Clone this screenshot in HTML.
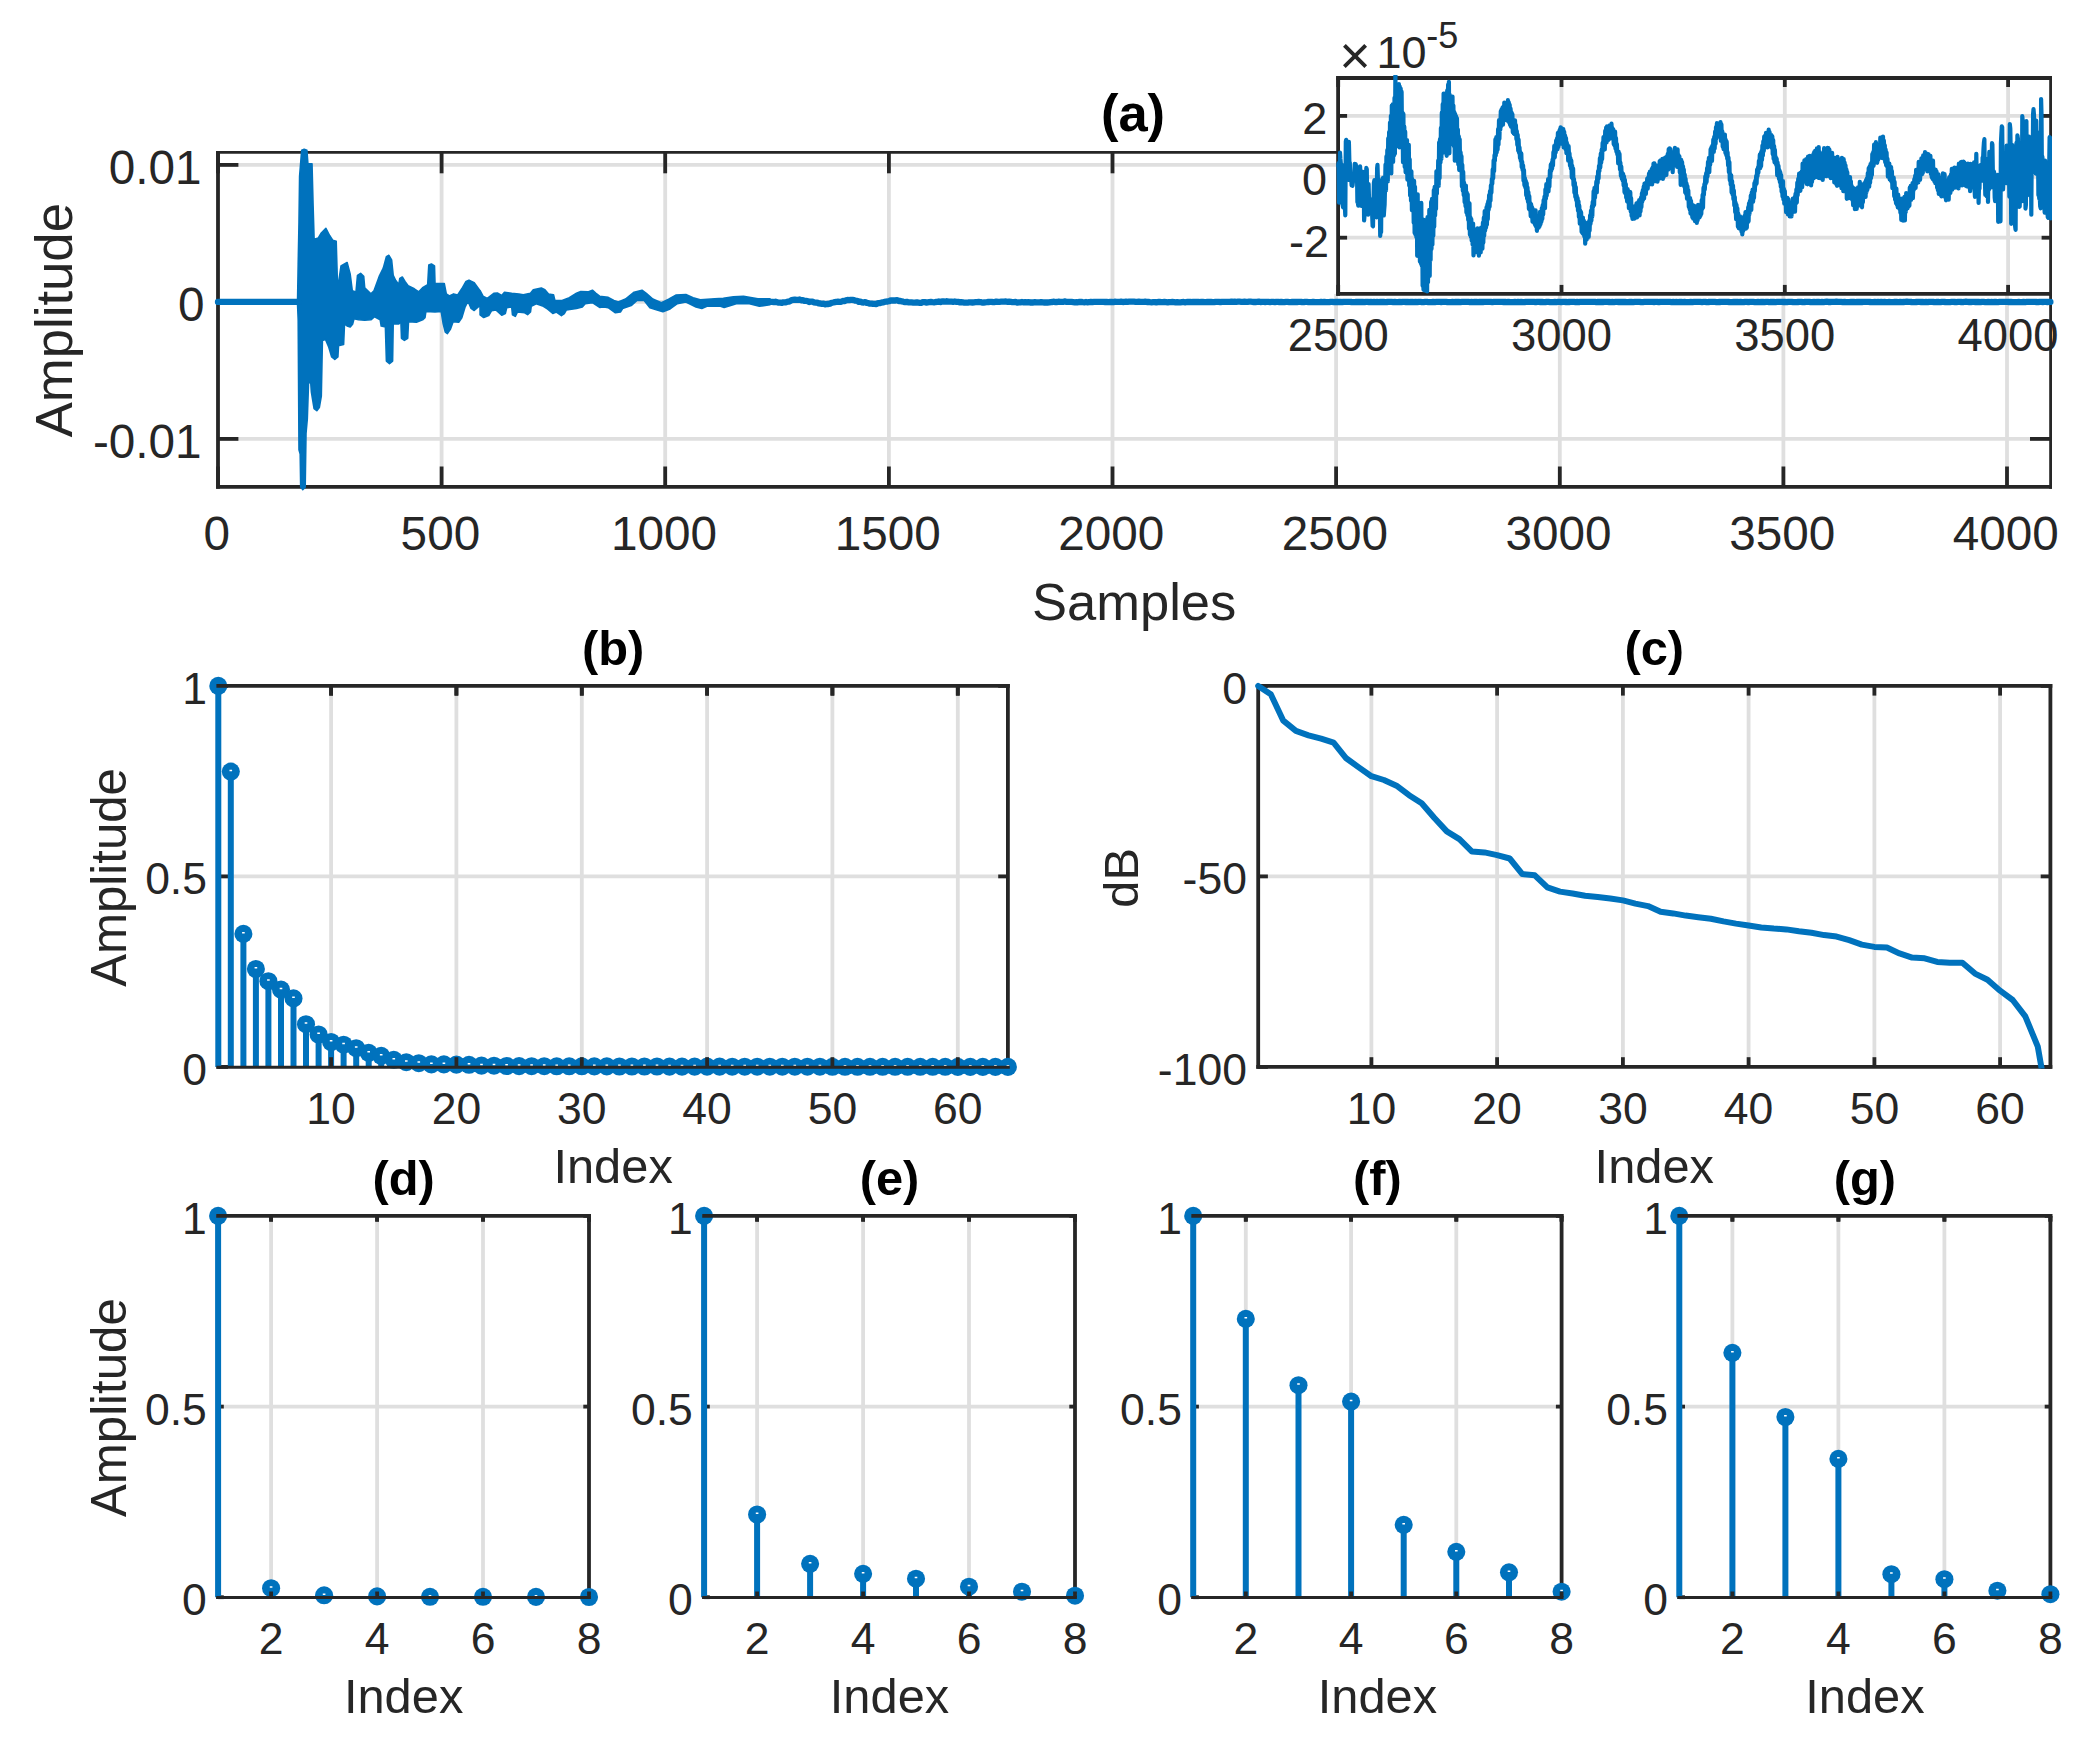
<!DOCTYPE html>
<html lang="en"><head><meta charset="utf-8"><title>Figure</title>
<style>html,body{margin:0;padding:0;background:#fff}svg{display:block}text{font-family:'Liberation Sans', sans-serif}</style>
</head><body>
<svg width="2084" height="1743" viewBox="0 0 2084 1743">
<rect width="2084" height="1743" fill="#fff"/>
<g id="axA">
<line x1="441.6" y1="152.9" x2="441.6" y2="486.9" stroke="#dfdfdf" stroke-width="3.8"/>
<line x1="665.2" y1="152.9" x2="665.2" y2="486.9" stroke="#dfdfdf" stroke-width="3.8"/>
<line x1="888.9" y1="152.9" x2="888.9" y2="486.9" stroke="#dfdfdf" stroke-width="3.8"/>
<line x1="1112.5" y1="152.9" x2="1112.5" y2="486.9" stroke="#dfdfdf" stroke-width="3.8"/>
<line x1="1336.1" y1="293.9" x2="1336.1" y2="486.9" stroke="#dfdfdf" stroke-width="3.8"/>
<line x1="1559.8" y1="152.9" x2="1559.8" y2="486.9" stroke="#dfdfdf" stroke-width="3.8"/>
<line x1="1783.4" y1="152.9" x2="1783.4" y2="486.9" stroke="#dfdfdf" stroke-width="3.8"/>
<line x1="2007" y1="152.9" x2="2007" y2="486.9" stroke="#dfdfdf" stroke-width="3.8"/>
<line x1="218" y1="164.9" x2="2050.4" y2="164.9" stroke="#dfdfdf" stroke-width="3.8"/>
<line x1="218" y1="301.9" x2="2050.4" y2="301.9" stroke="#dfdfdf" stroke-width="3.8"/>
<line x1="218" y1="438.9" x2="2050.4" y2="438.9" stroke="#dfdfdf" stroke-width="3.8"/>
<line x1="218" y1="151" x2="218" y2="488.8" stroke="#262626" stroke-width="3.8"/>
<line x1="2050.6" y1="151" x2="2050.6" y2="488.8" stroke="#262626" stroke-width="2.8"/>
<line x1="216.1" y1="152.4" x2="2052" y2="152.4" stroke="#262626" stroke-width="2.9"/>
<line x1="216.1" y1="486.9" x2="2052" y2="486.9" stroke="#262626" stroke-width="3.8"/>
<line x1="218" y1="152.9" x2="218" y2="173.3" stroke="#262626" stroke-width="3.8"/>
<line x1="218" y1="486.9" x2="218" y2="466.5" stroke="#262626" stroke-width="3.8"/>
<line x1="441.6" y1="152.9" x2="441.6" y2="173.3" stroke="#262626" stroke-width="3.8"/>
<line x1="441.6" y1="486.9" x2="441.6" y2="466.5" stroke="#262626" stroke-width="3.8"/>
<line x1="665.2" y1="152.9" x2="665.2" y2="173.3" stroke="#262626" stroke-width="3.8"/>
<line x1="665.2" y1="486.9" x2="665.2" y2="466.5" stroke="#262626" stroke-width="3.8"/>
<line x1="888.9" y1="152.9" x2="888.9" y2="173.3" stroke="#262626" stroke-width="3.8"/>
<line x1="888.9" y1="486.9" x2="888.9" y2="466.5" stroke="#262626" stroke-width="3.8"/>
<line x1="1112.5" y1="152.9" x2="1112.5" y2="173.3" stroke="#262626" stroke-width="3.8"/>
<line x1="1112.5" y1="486.9" x2="1112.5" y2="466.5" stroke="#262626" stroke-width="3.8"/>
<line x1="1336.1" y1="486.9" x2="1336.1" y2="466.5" stroke="#262626" stroke-width="3.8"/>
<line x1="1559.8" y1="486.9" x2="1559.8" y2="466.5" stroke="#262626" stroke-width="3.8"/>
<line x1="1783.4" y1="486.9" x2="1783.4" y2="466.5" stroke="#262626" stroke-width="3.8"/>
<line x1="2007" y1="486.9" x2="2007" y2="466.5" stroke="#262626" stroke-width="3.8"/>
<line x1="218" y1="164.9" x2="238.4" y2="164.9" stroke="#262626" stroke-width="3.8"/>
<line x1="2050.4" y1="164.9" x2="2030" y2="164.9" stroke="#262626" stroke-width="3.8"/>
<line x1="218" y1="301.9" x2="238.4" y2="301.9" stroke="#262626" stroke-width="3.8"/>
<line x1="2050.4" y1="301.9" x2="2030" y2="301.9" stroke="#262626" stroke-width="3.8"/>
<line x1="218" y1="438.9" x2="238.4" y2="438.9" stroke="#262626" stroke-width="3.8"/>
<line x1="2050.4" y1="438.9" x2="2030" y2="438.9" stroke="#262626" stroke-width="3.8"/>
<text x="216.8" y="550.2" font-size="47.7" text-anchor="middle" fill="#262626">0</text>
<text x="440.4" y="550.2" font-size="47.7" text-anchor="middle" fill="#262626">500</text>
<text x="664" y="550.2" font-size="47.7" text-anchor="middle" fill="#262626">1000</text>
<text x="887.7" y="550.2" font-size="47.7" text-anchor="middle" fill="#262626">1500</text>
<text x="1111.3" y="550.2" font-size="47.7" text-anchor="middle" fill="#262626">2000</text>
<text x="1334.9" y="550.2" font-size="47.7" text-anchor="middle" fill="#262626">2500</text>
<text x="1558.5" y="550.2" font-size="47.7" text-anchor="middle" fill="#262626">3000</text>
<text x="1782.2" y="550.2" font-size="47.7" text-anchor="middle" fill="#262626">3500</text>
<text x="2005.8" y="550.2" font-size="47.7" text-anchor="middle" fill="#262626">4000</text>
<text x="201.6" y="184.1" font-size="47.7" text-anchor="end" fill="#262626">0.01</text>
<text x="204.6" y="321.1" font-size="47.7" text-anchor="end" fill="#262626">0</text>
<text x="201.6" y="458.1" font-size="47.7" text-anchor="end" fill="#262626">-0.01</text>
<text x="71.8" y="320.2" font-size="52.7" text-anchor="middle" fill="#262626" transform="rotate(-90 71.8 320.2)">Amplitude</text>
<text x="1134.2" y="619.6" font-size="52.5" text-anchor="middle" fill="#262626">Samples</text>
<text x="1133" y="131.3" font-size="52.5" text-anchor="middle" fill="#000" font-weight="bold">(a)</text>
<path fill="#0072BD" stroke="#0072BD" stroke-width="1.6" stroke-linejoin="round" d="M297.6,299 297.6,298.7 298.2,264 299,222.6 299.6,176.2 301.7,150.3 304.2,149.3 306.9,150.3 307.9,163.8 312,163.8 313.1,206.1 314.1,239.2 318.2,238.1 321.3,233 325.9,228.4 329.6,235.5 332.7,240.2 336.2,241.2 337.4,282.6 338.9,280.5 341,266 347.1,262.5 350.2,274.3 352.3,290.8 356,291.9 357.5,275.3 360.6,273.3 363.7,276.4 364.7,287.7 370.9,293.9 374,290.8 379.2,276.4 383.3,268.1 386.4,256.7 388.9,255.3 391.6,259.8 393.2,275.3 395.7,280.5 398.8,284.6 399.8,278.4 402.3,277 405,281.5 408.1,285.7 414.3,288.8 418.8,291.9 422.6,287.7 427.7,284.6 428.8,265 431.4,264 434.5,266 435,283.6 444.3,283.6 446.3,293.9 449.4,296 453.6,293.9 457.7,295 461.8,288.8 466,281.5 469,280.1 474.2,282.6 480,290.8 480.1,290.5 483,296.2 487.3,298.4 493.8,293.3 497.3,293 501.7,295.5 504.5,292.2 511.7,293.3 518.9,294.1 523.3,294.8 530.5,293.3 533.3,289.7 541.3,288 544.9,289.7 548.5,294.1 553.5,294.8 554.9,300.5 562.1,300.5 569.3,297.7 576.5,293.3 580.8,291.6 588,291.9 592.4,290.2 596,293.3 599.6,296.2 608.2,297.4 613.9,300.5 618.3,302 625.5,299.1 634.1,292.2 642,290.2 646.3,293.3 652.8,299.1 661.4,302.7 668.6,299.1 675.8,295.1 685.9,294.5 693.1,297.7 700.3,299.8 714.7,298.8 723.3,298.4 733.4,296.9 743.5,296.2 757.9,298.8 770,298.7 L770,304.7 759.3,306.3 749.3,303.7 736.3,303.7 729.1,306 724.1,307.4 720.5,306.3 707.5,306 701.8,308.5 696,307 685.9,302 677.3,303.7 670.1,308.9 662.9,311.8 657.1,309.9 649.9,307.7 644.2,300.5 637,300.5 631.2,305.6 622.6,308.5 620.4,312 615.4,312.8 608.2,307.7 603.9,307 599.6,307.4 592.4,302.7 585.2,303.7 582.3,307 576.5,308.5 566.4,309.9 564.3,313.5 561.4,315.6 556.4,312 552.8,313.5 547.7,309.2 543.4,306.3 536.2,303.7 531.2,306.3 530.5,312 527.6,314.6 524.7,312.8 517.5,312 515.3,316.4 512.5,314.9 511.7,307 506.7,307.7 505.3,313.5 501.7,315.2 495.9,309.9 491.6,310.6 488.7,315.6 483.7,317.5 480.1,314.9 480,305.3 474.2,310.5 471.1,308.4 468,301.2 464.9,307.4 461.8,317.7 458.7,322.2 453.1,321.8 450.5,329 447.4,333.6 445.3,332.1 443.2,323.9 441.2,311.5 435,311.9 425.9,311.5 425,317.7 422.6,319.8 416.4,322.2 408.5,321.8 407.7,338.3 404.4,340.4 401.5,338.3 400.9,321.8 398.8,323.9 393.2,323.9 392.6,361.1 389.5,363.6 386.4,361.1 385.4,327 381.2,326 380.2,319.8 374.6,316.7 370.9,319.8 364.7,320.2 358.5,319.8 354,318.7 352.7,323.9 350.2,327 347.1,326 344.5,323.9 343.6,344.5 338.5,345.6 337.9,356.9 334.8,359.4 331.7,356.9 328.6,346.6 325.5,339.4 322.4,340.4 321.3,396.2 319.3,407.6 316.8,410.7 314.1,408.6 311.4,392.1 310.6,380.7 308.5,383.8 307.3,418.9 306,433.4 305.2,487.1 302.7,489.6 300.7,487.1 300.2,454 299,449.9 298.2,319.8 297.6,305.3 297.6,304.9Z"/>
<path fill="none" stroke="#0072BD" stroke-width="6.3" stroke-linejoin="round" stroke-linecap="round" d="M218,301.95H299 M766,301.7 767.6,301.8 769.2,301.8 770.8,301.9 772.4,301.8 774,302.1 775.6,301.7 777.2,302.2 778.8,302.7 780.4,302.6 782,302.9 783.6,302.3 785.2,302.4 786.8,301.9 788.4,301.7 790,301.2 791.6,300.2 793.2,299.9 794.8,299.6 796.4,299.9 798,299.8 799.6,299.5 801.2,300.3 802.8,300.2 804.4,300.9 806,300.9 807.6,301.1 809.2,302 810.8,301.6 812.4,301.7 814,302.4 815.6,302.6 817.2,302.6 818.8,303.4 820.4,303.5 822,303.9 823.6,303.7 825.2,304.3 826.8,304 828.4,304 830,303.6 831.6,302.8 833.2,302.5 834.8,302.1 836.4,301.8 838,301.7 839.6,301.8 841.2,301.8 842.8,301 844.4,301.1 846,300.4 847.6,300 849.2,300.1 850.8,299.8 852.4,299.8 854,300.1 855.6,300.7 857.2,300.8 858.8,301.9 860.4,301.6 862,302.3 863.6,302.5 865.2,302.1 866.8,302.9 868.4,303.1 870,303.7 871.6,303.6 873.2,303.9 874.8,303.9 876.4,304.2 878,303.2 879.6,303.1 881.2,302.7 882.8,302.4 884.4,301.9 886,301.7 887.6,301.5 889.2,301.2 890.8,300.3 892.4,300.5 894,300.4 895.6,300.5 897.2,300.2 898.8,301.2 900.4,300.9 902,301.4 903.6,301.8 905.2,302.1 906.8,301.8 908.4,302.4 910,302.3 911.6,302.4 913.2,302.6 914.8,302.6 916.4,302.5 918,302.5 919.6,302.8 921.2,302.9 922.8,302.2 924.4,302.1 926,302.6 927.6,302.3 929.2,302.1 930.8,302 932.4,302.2 934,302.3 935.6,302 937.2,301.9 938.8,301.5 940.4,302 942,301.3 943.6,301.5 945.2,301.7 946.8,301.2 948.4,301.6 950,301.7 951.6,301.6 953.2,301.8 954.8,301.5 956.4,301.8 958,301.8 959.6,302.4 961.2,302.1 962.8,302.3 964.4,302.7 966,302.6 967.6,302.7 969.2,302.3 970.8,302.4 972.4,302.5 974,302.3 975.6,302.1 977.2,302.2 978.8,302 980.4,302.1 982,302.6 983.6,302.5 985.2,302.3 986.8,302.2 988.4,302 990,301.8 991.6,301.8 993.2,302.1 994.8,302.1 996.4,301.6 998,301.8 999.6,301.8 1001.2,301.7 1002.8,301.6 1004.4,301.7 1006,301.5 1007.6,301.8 1009.2,301.6 1010.8,301.8 1012.4,302.2 1014,302.2 1015.6,302 1017.2,302.6 1018.8,302.4 1020.4,302.4 1022,302 1023.6,302.3 1025.2,302.1 1026.8,302.4 1028.4,302.2 1030,302.5 1031.6,302.4 1033.2,302.5 1034.8,302.1 1036.4,302.3 1038,302.4 1039.6,302.4 1041.2,302.1 1042.8,302.4 1044.4,302.5 1046,302.3 1047.6,302.5 1049.2,302.4 1050.8,302.1 1052.4,302 1054,301.7 1055.6,302.1 1057.2,302 1058.8,301.7 1060.4,301.8 1062,301.8 1063.6,301.8 1065.2,301.4 1066.8,301.9 1068.4,301.8 1070,301.9 1071.6,301.9 1073.2,302.1 1074.8,302.3 1076.4,302.2 1078,302.3 1079.6,301.9 1081.2,302 1082.8,302.2 1084.4,302.3 1086,302 1087.6,302.3 1089.2,302.2 1090.8,301.8 1092.4,302.1 1094,301.9 1095.6,301.8 1097.2,301.8 1098.8,301.9 1100.4,301.9 1102,301.9 1103.6,301.8 1105.2,302 1106.8,302 1108.4,302.1 1110,302 1111.6,301.9 1113.2,302.2 1114.8,301.7 1116.4,301.9 1118,301.8 1119.6,301.9 1121.2,301.7 1122.8,302 1124.4,301.8 1126,301.6 1127.6,301.8 1129.2,301.6 1130.8,301.7 1132.4,301.6 1134,301.7 1135.6,301.9 1137.2,301.9 1138.8,301.7 1140.4,301.9 1142,301.9 1143.6,301.8 1145.2,301.7 1146.8,302 1148.4,302 1150,302.2 1151.6,302.3 1153.2,302.2 1154.8,302.1 1156.4,302.4 1158,302 1159.6,302 1161.2,302.2 1162.8,302.2 1164.4,302 1166,302.2 1167.6,302.4 1169.2,302.1 1170.8,302.1 1172.4,302 1174,302.1 1175.6,302.3 1177.2,302.1 1178.8,302.3 1180.4,302.3 1182,302.1 1183.6,302 1185.2,302.3 1186.8,302 1188.4,302 1190,301.9 1191.6,302.2 1193.2,302 1194.8,301.9 1196.4,302 1198,301.8 1199.6,302.1 1201.2,302 1202.8,301.9 1204.4,302.1 1206,302.1 1207.6,301.8 1209.2,302 1210.8,301.9 1212.4,302.2 1214,302.1 1215.6,301.8 1217.2,301.8 1218.8,301.8 1220.4,302.1 1222,301.8 1223.6,301.9 1225.2,301.8 1226.8,301.9 1228.4,301.9 1230,301.9 1231.6,301.6 1233.2,301.9 1234.8,301.7 1236.4,301.8 1238,301.7 1239.6,301.7 1241.2,301.8 1242.8,301.8 1244.4,301.7 1246,301.9 1247.6,301.8 1249.2,301.6 1250.8,301.7 1252.4,301.8 1254,302 1255.6,302 1257.2,301.9 1258.8,301.6 1260.4,302 1262,301.8 1263.6,301.9 1265.2,302 1266.8,301.9 1268.4,301.9 1270,302.1 1271.6,301.9 1273.2,301.9 1274.8,302.1 1276.4,301.8 1278,301.8 1279.6,302.1 1281.2,301.8 1282.8,302.1 1284.4,302.1 1286,301.9 1287.6,301.9 1289.2,302.1 1290.8,302.2 1292.4,301.8 1294,302 1295.6,302 1297.2,302 1298.8,301.9 1300.4,301.8 1302,302 1303.6,302.1 1305.2,301.8 1306.8,301.9 1308.4,302.1 1310,302.1 1311.6,302.1 1313.2,301.8 1314.8,302.1 1316.4,302.2 1318,302.2 1319.6,302.1 1321.2,301.8 1322.8,302.2 1324.4,301.9 1326,302.1 1327.6,302.2 1329.2,302.1 1330.8,301.8 1332.4,301.9 1334,302.2 1335.6,301.8 1337.2,302 1338.8,302 1340.4,301.8 1342,302.1 1343.6,301.8 1345.2,301.8 1346.8,301.9 1348.4,301.8 1350,301.8 1351.6,302 1353.2,302.1 1354.8,302.2 1356.4,301.8 1358,302 1359.6,301.9 1361.2,302 1362.8,302 1364.4,302.2 1366,301.9 1367.6,301.8 1369.2,302.1 1370.8,301.8 1372.4,302.1 1374,302 1375.6,302.2 1377.2,302 1378.8,302.1 1380.4,301.9 1382,302 1383.6,301.9 1385.2,302.1 1386.8,302 1388.4,301.8 1390,301.9 1391.6,301.9 1393.2,302.1 1394.8,301.9 1396.4,302.1 1398,302.1 1399.6,301.8 1401.2,302.1 1402.8,301.8 1404.4,301.8 1406,302 1407.6,301.9 1409.2,302.2 1410.8,302 1412.4,301.9 1414,302.1 1415.6,301.8 1417.2,302.1 1418.8,301.8 1420.4,301.8 1422,302.2 1423.6,302.1 1425.2,301.9 1426.8,301.8 1428.4,302.2 1430,302.1 1431.6,302.1 1433.2,301.8 1434.8,302.1 1436.4,301.9 1438,301.9 1439.6,301.9 1441.2,302 1442.8,301.9 1444.4,301.9 1446,301.8 1447.6,302.1 1449.2,302.1 1450.8,302.1 1452.4,302 1454,302.2 1455.6,302 1457.2,302 1458.8,302 1460.4,302.1 1462,301.9 1463.6,301.8 1465.2,301.8 1466.8,301.9 1468.4,301.8 1470,302.2 1471.6,302 1473.2,302.1 1474.8,301.8 1476.4,302 1478,302.2 1479.6,302 1481.2,302 1482.8,302 1484.4,301.8 1486,301.8 1487.6,301.8 1489.2,301.9 1490.8,301.9 1492.4,302.2 1494,301.8 1495.6,301.9 1497.2,301.9 1498.8,301.8 1500.4,301.9 1502,301.9 1503.6,302 1505.2,301.8 1506.8,302.2 1508.4,301.9 1510,302.2 1511.6,302.1 1513.2,302.1 1514.8,302 1516.4,302.2 1518,301.8 1519.6,302.1 1521.2,301.9 1522.8,302.1 1524.4,302.1 1526,301.8 1527.6,301.9 1529.2,301.8 1530.8,301.9 1532.4,301.8 1534,301.9 1535.6,302.2 1537.2,301.9 1538.8,301.9 1540.4,302 1542,301.9 1543.6,302.1 1545.2,302.1 1546.8,301.8 1548.4,301.9 1550,302.1 1551.6,302.2 1553.2,302.1 1554.8,302 1556.4,302.2 1558,301.8 1559.6,301.8 1561.2,302.1 1562.8,301.9 1564.4,301.8 1566,302 1567.6,302.2 1569.2,302 1570.8,301.9 1572.4,301.8 1574,301.8 1575.6,302.2 1577.2,302 1578.8,302.2 1580.4,301.8 1582,301.9 1583.6,301.8 1585.2,301.9 1586.8,301.8 1588.4,301.9 1590,301.9 1591.6,301.9 1593.2,301.8 1594.8,301.8 1596.4,302.2 1598,301.8 1599.6,302 1601.2,301.9 1602.8,302 1604.4,301.8 1606,301.9 1607.6,301.8 1609.2,302 1610.8,302.2 1612.4,302 1614,302.1 1615.6,301.9 1617.2,301.8 1618.8,302 1620.4,302 1622,302 1623.6,301.9 1625.2,302 1626.8,302.1 1628.4,302.2 1630,301.9 1631.6,302 1633.2,302.1 1634.8,301.9 1636.4,301.8 1638,301.9 1639.6,301.8 1641.2,302.1 1642.8,302.1 1644.4,301.9 1646,301.8 1647.6,301.8 1649.2,301.9 1650.8,301.8 1652.4,301.9 1654,302 1655.6,301.9 1657.2,301.8 1658.8,302.1 1660.4,301.8 1662,301.8 1663.6,301.9 1665.2,301.9 1666.8,301.8 1668.4,301.9 1670,301.9 1671.6,302.1 1673.2,302 1674.8,302.2 1676.4,302 1678,302.1 1679.6,302 1681.2,301.9 1682.8,302.1 1684.4,302 1686,302.2 1687.6,302.1 1689.2,302.1 1690.8,301.9 1692.4,302.1 1694,301.9 1695.6,301.8 1697.2,301.8 1698.8,301.8 1700.4,301.9 1702,302.1 1703.6,301.9 1705.2,301.8 1706.8,302.1 1708.4,302 1710,301.8 1711.6,301.8 1713.2,301.8 1714.8,301.9 1716.4,302.1 1718,302.2 1719.6,302 1721.2,301.8 1722.8,301.9 1724.4,301.9 1726,301.9 1727.6,301.8 1729.2,302 1730.8,302.1 1732.4,302.1 1734,301.8 1735.6,302 1737.2,301.8 1738.8,302.1 1740.4,301.9 1742,302.2 1743.6,302.1 1745.2,301.8 1746.8,301.9 1748.4,302.2 1750,301.9 1751.6,301.9 1753.2,301.9 1754.8,302.1 1756.4,302.2 1758,302 1759.6,302.2 1761.2,302 1762.8,301.8 1764.4,302.1 1766,301.9 1767.6,301.8 1769.2,302.2 1770.8,301.8 1772.4,302 1774,302 1775.6,302.1 1777.2,301.9 1778.8,301.8 1780.4,301.9 1782,301.8 1783.6,302 1785.2,301.9 1786.8,302.1 1788.4,301.8 1790,301.9 1791.6,301.9 1793.2,302.2 1794.8,302.1 1796.4,302.1 1798,302 1799.6,301.9 1801.2,301.8 1802.8,302.1 1804.4,302 1806,301.8 1807.6,301.8 1809.2,301.8 1810.8,302.1 1812.4,302.1 1814,301.8 1815.6,302.1 1817.2,301.9 1818.8,302 1820.4,302.1 1822,302 1823.6,302.1 1825.2,301.9 1826.8,301.7 1828.4,302 1830,302 1831.6,301.8 1833.2,301.9 1834.8,301.9 1836.4,301.7 1838,301.9 1839.6,301.9 1841.2,301.9 1842.8,302.1 1844.4,301.9 1846,302.2 1847.6,302.1 1849.2,302.1 1850.8,302 1852.4,302 1854,302 1855.6,302.1 1857.2,301.9 1858.8,302 1860.4,302 1862,302 1863.6,301.9 1865.2,301.8 1866.8,301.8 1868.4,301.9 1870,302 1871.6,302.1 1873.2,302.1 1874.8,301.9 1876.4,302.1 1878,301.9 1879.6,302.1 1881.2,301.8 1882.8,302.1 1884.4,302 1886,302.2 1887.6,302.1 1889.2,302 1890.8,302.1 1892.4,302.1 1894,302 1895.6,301.8 1897.2,302 1898.8,302.1 1900.4,301.8 1902,302.2 1903.6,302 1905.2,301.9 1906.8,301.7 1908.4,301.9 1910,301.8 1911.6,302 1913.2,302.1 1914.8,302.1 1916.4,302 1918,301.9 1919.6,301.8 1921.2,302 1922.8,302 1924.4,302.1 1926,301.9 1927.6,302.1 1929.2,301.8 1930.8,301.9 1932.4,301.8 1934,302 1935.6,302.1 1937.2,301.8 1938.8,302 1940.4,302.1 1942,301.8 1943.6,301.8 1945.2,302 1946.8,302.1 1948.4,302.1 1950,302.1 1951.6,301.9 1953.2,301.9 1954.8,302 1956.4,302.1 1958,301.9 1959.6,301.9 1961.2,302 1962.8,302.2 1964.4,301.8 1966,301.7 1967.6,301.8 1969.2,302 1970.8,302 1972.4,301.8 1974,301.8 1975.6,302 1977.2,302 1978.8,302 1980.4,302.1 1982,301.8 1983.6,301.9 1985.2,302.1 1986.8,302.2 1988.4,301.9 1990,302.1 1991.6,302 1993.2,302.1 1994.8,301.8 1996.4,302 1998,302.1 1999.6,301.9 2001.2,301.8 2002.8,301.8 2004.4,301.8 2006,301.8 2007.6,301.8 2009.2,302 2010.8,301.8 2012.4,302.1 2014,302.1 2015.6,302.1 2017.2,302.1 2018.8,302 2020.4,302.1 2022,302.2 2023.6,302 2025.2,302.2 2026.8,301.8 2028.4,301.8 2030,301.8 2031.6,301.8 2033.2,301.9 2034.8,301.9 2036.4,302 2038,302.1 2039.6,301.8 2041.2,301.9 2042.8,302 2044.4,301.9 2046,301.8 2047.6,302 2049.2,301.9 2050.4,301.9"/>
</g>
<g id="inset">
<rect x="1338.1" y="74" width="714.5" height="220" fill="#fff"/>
<line x1="1561.5" y1="78" x2="1561.5" y2="293.9" stroke="#dfdfdf" stroke-width="3.8"/>
<line x1="1784.8" y1="78" x2="1784.8" y2="293.9" stroke="#dfdfdf" stroke-width="3.8"/>
<line x1="2008.1" y1="78" x2="2008.1" y2="293.9" stroke="#dfdfdf" stroke-width="3.8"/>
<line x1="1338.1" y1="115.9" x2="2050.6" y2="115.9" stroke="#dfdfdf" stroke-width="3.8"/>
<line x1="1338.1" y1="176.8" x2="2050.6" y2="176.8" stroke="#dfdfdf" stroke-width="3.8"/>
<line x1="1338.1" y1="237.7" x2="2050.6" y2="237.7" stroke="#dfdfdf" stroke-width="3.8"/>
<line x1="1338.1" y1="76" x2="1338.1" y2="295.8" stroke="#262626" stroke-width="3.8"/>
<line x1="2050.6" y1="76" x2="2050.6" y2="295.8" stroke="#262626" stroke-width="2.8"/>
<line x1="1336.2" y1="78" x2="2052" y2="78" stroke="#262626" stroke-width="3.8"/>
<line x1="1336.2" y1="293.9" x2="2052" y2="293.9" stroke="#262626" stroke-width="3.8"/>
<line x1="1338.2" y1="78" x2="1338.2" y2="87" stroke="#262626" stroke-width="3.8"/>
<line x1="1338.2" y1="293.9" x2="1338.2" y2="284.9" stroke="#262626" stroke-width="3.8"/>
<line x1="1561.5" y1="78" x2="1561.5" y2="87" stroke="#262626" stroke-width="3.8"/>
<line x1="1561.5" y1="293.9" x2="1561.5" y2="284.9" stroke="#262626" stroke-width="3.8"/>
<line x1="1784.8" y1="78" x2="1784.8" y2="87" stroke="#262626" stroke-width="3.8"/>
<line x1="1784.8" y1="293.9" x2="1784.8" y2="284.9" stroke="#262626" stroke-width="3.8"/>
<line x1="2008.1" y1="78" x2="2008.1" y2="87" stroke="#262626" stroke-width="3.8"/>
<line x1="2008.1" y1="293.9" x2="2008.1" y2="284.9" stroke="#262626" stroke-width="3.8"/>
<line x1="1338.1" y1="115.9" x2="1347.1" y2="115.9" stroke="#262626" stroke-width="3.8"/>
<line x1="2050.6" y1="115.9" x2="2041.6" y2="115.9" stroke="#262626" stroke-width="3.8"/>
<line x1="1338.1" y1="176.8" x2="1347.1" y2="176.8" stroke="#262626" stroke-width="3.8"/>
<line x1="2050.6" y1="176.8" x2="2041.6" y2="176.8" stroke="#262626" stroke-width="3.8"/>
<line x1="1338.1" y1="237.7" x2="1347.1" y2="237.7" stroke="#262626" stroke-width="3.8"/>
<line x1="2050.6" y1="237.7" x2="2041.6" y2="237.7" stroke="#262626" stroke-width="3.8"/>
<clipPath id="ci"><rect x="1336.1" y="75" width="715.9" height="221"/></clipPath>
<polyline clip-path="url(#ci)" fill="none" stroke="#0072BD" stroke-width="4.2" stroke-linejoin="round" stroke-linecap="round" points="1338.2,166.4 1338.6,163.2 1339.1,202.7 1339.5,200.8 1340,152.6 1340.4,158.7 1340.9,164.2 1341.3,164.6 1341.8,195.2 1342.2,196.1 1342.7,205.6 1343.1,207.4 1343.6,173.9 1344,165.5 1344.5,164.9 1344.9,207.4 1345.3,215.3 1345.8,141.4 1346.2,139.8 1346.7,176.8 1347.1,150.7 1347.6,158.1 1348,176.5 1348.5,179.9 1348.9,141.8 1349.4,162.9 1349.8,162.5 1350.3,179 1350.7,179.1 1351.2,178.3 1351.6,185.5 1352,184.5 1352.5,185.9 1352.9,182 1353.4,175.7 1353.8,174.7 1354.3,172.3 1354.7,163.9 1355.2,167.4 1355.6,164 1356.1,166.1 1356.5,178.3 1357,173.3 1357.4,202.1 1357.8,202.1 1358.3,205.6 1358.7,190.9 1359.2,198.1 1359.6,196.3 1360.1,166.4 1360.5,174.4 1361,201.3 1361.4,205.8 1361.9,182 1362.3,182.9 1362.8,171.9 1363.2,172.8 1363.7,176 1364.1,220.5 1364.5,215.6 1365,181 1365.4,185.6 1365.9,202.9 1366.3,167.9 1366.8,169.5 1367.2,209.5 1367.7,210.1 1368.1,214.6 1368.6,184.1 1369,198.2 1369.5,203.9 1369.9,203.1 1370.4,199.4 1370.8,205.4 1371.2,201.6 1371.7,207.9 1372.1,213.3 1372.6,225.8 1373,226.3 1373.5,201.2 1373.9,182.8 1374.4,180.2 1374.8,210.4 1375.3,203 1375.7,206.4 1376.2,214.6 1376.6,217.3 1377.1,168.2 1377.5,164.8 1377.9,178.7 1378.4,181.4 1378.8,196.8 1379.3,194.3 1379.7,195.6 1380.2,235.9 1380.6,229.6 1381.1,232.2 1381.5,184.1 1382,180.7 1382.4,178.6 1382.9,177.9 1383.3,178.8 1383.8,215.5 1384.2,209.6 1384.6,204.9 1385.1,184.9 1385.5,164.6 1386,190.4 1386.4,156.4 1386.9,180.5 1387.3,150.1 1387.8,181.4 1388.2,138.4 1388.7,170.7 1389.1,132 1389.6,163.5 1390,122.5 1390.4,170.1 1390.9,115.8 1391.3,173.4 1391.8,105.5 1392.2,158.7 1392.7,104.3 1393.1,161.9 1393.6,108.4 1394,155.4 1394.5,97.8 1394.9,153.8 1395.4,70.9 1395.8,146.4 1396.3,93 1396.7,132.9 1397.1,92.6 1397.6,139.9 1398,91 1398.5,146.1 1398.9,84 1399.4,147.4 1399.8,86.7 1400.3,142.2 1400.7,88.5 1401.2,142.4 1401.6,91.7 1402.1,146.3 1402.5,112.7 1403,162.3 1403.4,113.9 1403.8,157.1 1404.3,126.7 1404.7,167 1405.2,131.7 1405.6,172.3 1406.1,140 1406.5,172.9 1407,140 1407.4,179.7 1407.9,150.1 1408.3,176.9 1408.8,144.8 1409.2,185.6 1409.7,159.3 1410.1,195.4 1410.5,171.5 1411,200.6 1411.4,171.3 1411.9,210.3 1412.3,179.1 1412.8,210.3 1413.2,181.8 1413.7,222.6 1414.1,180.9 1414.6,233.1 1415,186.8 1415.5,234.8 1415.9,197.9 1416.3,237.1 1416.8,201.3 1417.2,255.8 1417.7,194.3 1418.1,255.5 1418.6,215.5 1419,252.1 1419.5,205.3 1419.9,261.4 1420.4,213 1420.8,263.3 1421.3,202.9 1421.7,265.6 1422.2,219.3 1422.6,285.8 1423,228.3 1423.5,289.8 1423.9,219.8 1424.4,290.4 1424.8,220.3 1425.3,276 1425.7,223.4 1426.2,283.5 1426.6,221.3 1427.1,291.4 1427.5,217.2 1428,282.2 1428.4,218 1428.9,272.9 1429.3,209.9 1429.7,276 1430.2,216.3 1430.6,260.1 1431.1,201.9 1431.5,249.1 1432,198.8 1432.4,244.8 1432.9,198.6 1433.3,235.7 1433.8,190.1 1434.2,226.8 1434.7,186.9 1435.1,215.4 1435.6,186.8 1436,209 1436.4,171.3 1436.9,193.7 1437.3,170.8 1437.8,185.9 1438.2,160.5 1438.7,185.9 1439.1,142.4 1439.6,178.2 1440,139 1440.5,162.5 1440.9,127.9 1441.4,158.9 1441.8,112.7 1442.3,151.1 1442.7,104.2 1443.1,152.8 1443.6,93.6 1444,149.2 1444.5,105.2 1444.9,138.2 1445.4,103.4 1445.8,141.6 1446.3,93 1446.7,155.8 1447.2,90.4 1447.6,152.3 1448.1,84.7 1448.5,150 1448.9,81.8 1449.4,153.3 1449.8,94.9 1450.3,144.2 1450.7,104.2 1451.2,142.6 1451.6,102.5 1452.1,138.8 1452.5,96.6 1453,143 1453.4,105.5 1453.9,146.2 1454.3,112.1 1454.8,160.7 1455.2,114.1 1455.6,155.1 1456.1,116.3 1456.5,159.2 1457,118.4 1457.4,161.3 1457.9,129.5 1458.3,164.6 1458.8,136.3 1459.2,170.1 1459.7,139.3 1460.1,167.4 1460.6,152.4 1461,169.6 1461.5,156.2 1461.9,186.4 1462.3,164.8 1462.8,190.7 1463.2,171.9 1463.7,195.2 1464.1,182.7 1464.6,202.1 1465,185.5 1465.5,206.3 1465.9,185.5 1466.4,212.5 1466.8,192.5 1467.3,215.1 1467.7,194.3 1468.2,220 1468.6,202.9 1469,228.8 1469.5,203.4 1469.9,234.8 1470.4,217.3 1470.8,236.7 1471.3,219 1471.7,240.8 1472.2,224.1 1472.6,244.6 1473.1,223.6 1473.5,255.5 1474,229 1474.4,249.5 1474.9,232.4 1475.3,249.2 1475.7,229.6 1476.2,248.5 1476.6,229.1 1477.1,252.5 1477.5,228.3 1478,252 1478.4,234.7 1478.9,255.6 1479.3,233.9 1479.8,250.8 1480.2,233.5 1480.7,252.5 1481.1,227.7 1481.5,245.5 1482,230.5 1482.4,248.7 1482.9,222.7 1483.3,242.8 1483.8,217.7 1484.2,235.8 1484.7,211 1485.1,230.6 1485.6,211 1486,227.6 1486.5,207.2 1486.9,224.6 1487.4,204.1 1487.8,219.2 1488.2,201.2 1488.7,209.7 1489.1,195.1 1489.6,206.7 1490,191.1 1490.5,200.6 1490.9,185.3 1491.4,192.8 1491.8,179 1492.3,183.8 1492.7,169.3 1493.2,178.3 1493.6,160.4 1494.1,171.2 1494.5,155.1 1494.9,160.8 1495.4,139.3 1495.8,155.5 1496.3,137.2 1496.7,152.4 1497.2,137.2 1497.6,149.7 1498.1,129 1498.5,144.7 1499,120.2 1499.4,138.9 1499.9,121.3 1500.3,129.6 1500.8,111 1501.2,126.1 1501.6,109.3 1502.1,124.5 1502.5,107.7 1503,124.7 1503.4,106.6 1503.9,118.4 1504.3,102.5 1504.8,118.8 1505.2,103 1505.7,120 1506.1,105 1506.6,120.3 1507,103.9 1507.5,120.8 1507.9,100.2 1508.3,119.8 1508.8,102.4 1509.2,122.7 1509.7,104.9 1510.1,125 1510.6,108.7 1511,126.7 1511.5,112.3 1511.9,127.7 1512.4,114.2 1512.8,132.3 1513.3,122.3 1513.7,133.4 1514.1,122.9 1514.6,134.2 1515,120.3 1515.5,134.3 1515.9,125.1 1516.4,139.2 1516.8,131.2 1517.3,145 1517.7,134.9 1518.2,150.7 1518.6,139.7 1519.1,153 1519.5,147.4 1520,158.2 1520.4,152.1 1520.8,161 1521.3,153.6 1521.7,167.1 1522.2,161.8 1522.6,170.1 1523.1,165.6 1523.5,180.7 1524,170 1524.4,185.3 1524.9,178.1 1525.3,187.3 1525.8,180.9 1526.2,195.3 1526.7,183 1527.1,198.8 1527.5,187.3 1528,202 1528.4,192 1528.9,208.9 1529.3,196.2 1529.8,209.9 1530.2,203.2 1530.7,216.2 1531.1,204 1531.6,216.9 1532,207 1532.5,221.7 1532.9,209 1533.4,222 1533.8,211.4 1534.2,222.9 1534.7,214.6 1535.1,224.9 1535.6,210.3 1536,226.5 1536.5,217.7 1536.9,230.8 1537.4,218.3 1537.8,228.1 1538.3,216.4 1538.7,227.7 1539.2,216.1 1539.6,226.1 1540,211.9 1540.5,224.2 1540.9,213.7 1541.4,221.6 1541.8,208.2 1542.3,218.9 1542.7,205 1543.2,214.5 1543.6,200.1 1544.1,208.1 1544.5,196.6 1545,208.1 1545.4,189.3 1545.9,198.6 1546.3,184.2 1546.7,195.6 1547.2,184.1 1547.6,191.6 1548.1,179 1548.5,191.3 1549,179.3 1549.4,186.7 1549.9,170.4 1550.3,177.4 1550.8,164.7 1551.2,170.9 1551.7,162.8 1552.1,168.7 1552.6,159.4 1553,165.4 1553.4,152.1 1553.9,158.2 1554.3,145.8 1554.8,157.2 1555.2,145.2 1555.7,152.5 1556.1,140.7 1556.6,148.2 1557,138.3 1557.5,149.3 1557.9,132.9 1558.4,146.9 1558.8,132.2 1559.3,141 1559.7,129.9 1560.1,143.2 1560.6,127.3 1561,142.2 1561.5,128.1 1561.9,143.9 1562.4,129.8 1562.8,141.1 1563.3,129 1563.7,147.4 1564.2,131.8 1564.6,144.5 1565.1,135.6 1565.5,149.1 1566,138 1566.4,153.1 1566.8,142.6 1567.3,152.6 1567.7,145.2 1568.2,160.6 1568.6,146 1569.1,157.3 1569.5,153.4 1570,165.6 1570.4,158 1570.9,168.7 1571.3,160.6 1571.8,177.4 1572.2,165.9 1572.6,178.7 1573.1,168.5 1573.5,185.3 1574,179.1 1574.4,192.8 1574.9,182.8 1575.3,196.9 1575.8,187 1576.2,200.3 1576.7,195.5 1577.1,206.2 1577.6,198 1578,210.7 1578.5,201.3 1578.9,216.9 1579.3,205.7 1579.8,223.7 1580.2,210.6 1580.7,223.8 1581.1,212.2 1581.6,231.9 1582,220.6 1582.5,233.2 1582.9,217.5 1583.4,234.2 1583.8,220.5 1584.3,236.5 1584.7,222 1585.2,243.6 1585.6,225.7 1586,240.2 1586.5,225.6 1586.9,239.1 1587.4,223 1587.8,237.9 1588.3,222.8 1588.7,237 1589.2,220.9 1589.6,230.7 1590.1,215.3 1590.5,223.9 1591,210.5 1591.4,220.6 1591.9,206.2 1592.3,216.4 1592.7,201.8 1593.2,206.4 1593.6,191.2 1594.1,204.9 1594.5,187.9 1595,197.7 1595.4,187.1 1595.9,192.9 1596.3,181.7 1596.8,192.5 1597.2,176.6 1597.7,183 1598.1,171 1598.6,178.5 1599,165.8 1599.4,171.1 1599.9,158.2 1600.3,167.5 1600.8,153.7 1601.2,162.6 1601.7,149.6 1602.1,159.1 1602.6,142.8 1603,150.5 1603.5,137 1603.9,148.1 1604.4,138.9 1604.8,149.5 1605.2,130.8 1605.7,141.1 1606.1,127.7 1606.6,142.5 1607,126.3 1607.5,140.1 1607.9,129.8 1608.4,140 1608.8,127.8 1609.3,139 1609.7,125.4 1610.2,137.6 1610.6,126.8 1611.1,137 1611.5,123.7 1611.9,138 1612.4,128.1 1612.8,138.8 1613.3,129.4 1613.7,144.1 1614.2,132.5 1614.6,145.6 1615.1,131.7 1615.5,148.7 1616,138.1 1616.4,151.8 1616.9,144.2 1617.3,154.5 1617.8,151.1 1618.2,163.4 1618.6,151.5 1619.1,160 1619.5,153.8 1620,169.4 1620.4,162.5 1620.9,175.9 1621.3,166.7 1621.8,178.7 1622.2,172.8 1622.7,180.5 1623.1,173.9 1623.6,185.3 1624,176.4 1624.5,192.1 1624.9,179.9 1625.3,193.4 1625.8,184 1626.2,197.6 1626.7,189.3 1627.1,201.4 1627.6,189 1628,202.2 1628.5,191.2 1628.9,208.2 1629.4,196.8 1629.8,206.4 1630.3,192.2 1630.7,211.4 1631.1,198 1631.6,216 1632,206.1 1632.5,218.8 1632.9,210.4 1633.4,218.5 1633.8,207.9 1634.3,218.6 1634.7,206.4 1635.2,218 1635.6,205.8 1636.1,216 1636.5,203.3 1637,217.3 1637.4,206.8 1637.8,213.4 1638.3,202 1638.7,212.6 1639.2,200.2 1639.6,215.4 1640.1,200.6 1640.5,211.4 1641,197.7 1641.4,207.2 1641.9,193.2 1642.3,201.6 1642.8,190 1643.2,199.5 1643.7,186.5 1644.1,198.4 1644.5,183.6 1645,192.5 1645.4,183.4 1645.9,193.8 1646.3,182.8 1646.8,188.7 1647.2,178.5 1647.7,188.6 1648.1,177.6 1648.6,184.4 1649,173.6 1649.5,184.3 1649.9,171.6 1650.4,184.1 1650.8,172 1651.2,180.5 1651.7,169.1 1652.1,184.5 1652.6,167.6 1653,179 1653.5,163.6 1653.9,178.8 1654.4,163.4 1654.8,181.2 1655.3,169.3 1655.7,181.2 1656.2,165.3 1656.6,181.5 1657.1,166.8 1657.5,181.7 1657.9,168.2 1658.4,178.3 1658.8,166.5 1659.3,178.7 1659.7,161.1 1660.2,176.7 1660.6,160.4 1661.1,175.6 1661.5,163.3 1662,170.2 1662.4,158.8 1662.9,179 1663.3,164.4 1663.7,176.8 1664.2,163.7 1664.6,172.8 1665.1,157.5 1665.5,171.8 1666,160.4 1666.4,174.9 1666.9,156.3 1667.3,168.8 1667.8,153.9 1668.2,169.6 1668.7,149.1 1669.1,163 1669.6,148.3 1670,167.8 1670.4,149.1 1670.9,163.2 1671.3,151.8 1671.8,168.9 1672.2,156.7 1672.7,172.1 1673.1,154.2 1673.6,163.8 1674,152.1 1674.5,163.1 1674.9,147.8 1675.4,164.3 1675.8,151.9 1676.3,165.5 1676.7,152.2 1677.1,167 1677.6,149.4 1678,166.1 1678.5,155.1 1678.9,167.5 1679.4,156.3 1679.8,172.4 1680.3,161.3 1680.7,185 1681.2,159.8 1681.6,174.9 1682.1,162 1682.5,179.8 1683,166.3 1683.4,178.2 1683.8,169.6 1684.3,186.7 1684.7,174.6 1685.2,192.5 1685.6,178.8 1686.1,194 1686.5,183.3 1687,198.8 1687.4,186 1687.9,197.4 1688.3,190.3 1688.8,206.9 1689.2,198.1 1689.7,209.5 1690.1,198.1 1690.5,213.5 1691,200.9 1691.4,214.1 1691.9,204.3 1692.3,217.3 1692.8,205.8 1693.2,218.6 1693.7,205.6 1694.1,217.6 1694.6,206 1695,221.2 1695.5,209.2 1695.9,219.8 1696.3,206.8 1696.8,223 1697.2,212.7 1697.7,220.2 1698.1,204.8 1698.6,215.8 1699,206.5 1699.5,217.5 1699.9,205 1700.4,216 1700.8,206.5 1701.3,214 1701.7,200.1 1702.2,208.9 1702.6,194.9 1703,207.6 1703.5,187.7 1703.9,194.8 1704.4,184 1704.8,189.4 1705.3,176.3 1705.7,183.6 1706.2,173 1706.6,181.8 1707.1,168 1707.5,176.4 1708,161.9 1708.4,169.8 1708.9,157.9 1709.3,172.2 1709.7,158.6 1710.2,164.7 1710.6,149.2 1711.1,159.2 1711.5,147.2 1712,161 1712.4,145.6 1712.9,151.5 1713.3,139.6 1713.8,152 1714.2,136.8 1714.7,148.4 1715.1,131.7 1715.6,143.7 1716,127 1716.4,138.5 1716.9,123.2 1717.3,135.6 1717.8,123.6 1718.2,135 1718.7,123.8 1719.1,136.5 1719.6,125.1 1720,135.9 1720.5,122.2 1720.9,141 1721.4,124.3 1721.8,140.1 1722.3,131.3 1722.7,146.7 1723.1,138.1 1723.6,149.1 1724,138.4 1724.5,147.9 1724.9,134.6 1725.4,152.9 1725.8,139.8 1726.3,155.3 1726.7,141.7 1727.2,158.8 1727.6,152.3 1728.1,165.4 1728.5,157.6 1728.9,172.3 1729.4,162.1 1729.8,180.3 1730.3,174.1 1730.7,184.7 1731.2,175.4 1731.6,192.4 1732.1,181.1 1732.5,194.4 1733,185.6 1733.4,199.1 1733.9,190.7 1734.3,205.4 1734.8,197.1 1735.2,212.1 1735.6,202.5 1736.1,219.2 1736.5,204.9 1737,219 1737.4,208.4 1737.9,226.8 1738.3,213.5 1738.8,228.3 1739.2,216.9 1739.7,226.8 1740.1,216.3 1740.6,228.3 1741,218.6 1741.5,231.6 1741.9,224.1 1742.3,234.4 1742.8,219.2 1743.2,230.9 1743.7,217 1744.1,227.7 1744.6,215.8 1745,226.3 1745.5,212 1745.9,228.6 1746.4,215.2 1746.8,227.8 1747.3,211.4 1747.7,222.5 1748.2,207.2 1748.6,221.1 1749,203.3 1749.5,214.2 1749.9,200.8 1750.4,207.7 1750.8,195.6 1751.3,210 1751.7,192.7 1752.2,201.9 1752.6,189.6 1753.1,201.8 1753.5,189.4 1754,198 1754.4,183 1754.8,191.2 1755.3,180.6 1755.7,185 1756.2,175.9 1756.6,183.3 1757.1,169.6 1757.5,176.1 1758,167.3 1758.4,172.7 1758.9,160.8 1759.3,168.7 1759.8,154.7 1760.2,168.1 1760.7,153.2 1761.1,166.1 1761.5,151.2 1762,160 1762.4,145.6 1762.9,155.5 1763.3,141.3 1763.8,151 1764.2,136.5 1764.7,147.5 1765.1,135.6 1765.6,147.3 1766,132.9 1766.5,143 1766.9,132.9 1767.4,147.4 1767.8,132.6 1768.2,142.3 1768.7,129.7 1769.1,141.9 1769.6,132 1770,144.9 1770.5,137 1770.9,146.8 1771.4,135 1771.8,148 1772.3,136.3 1772.7,154.1 1773.2,140 1773.6,158.9 1774.1,146 1774.5,162.3 1774.9,149.9 1775.4,163.1 1775.8,157.1 1776.3,165.1 1776.7,158.9 1777.2,175.3 1777.6,162.5 1778.1,172.7 1778.5,165.9 1779,178.8 1779.4,170 1779.9,182.1 1780.3,172.2 1780.8,186.6 1781.2,175.2 1781.6,191.8 1782.1,184.6 1782.5,196.4 1783,181.2 1783.4,199.5 1783.9,188.8 1784.3,203.6 1784.8,191 1785.2,202.7 1785.7,199.3 1786.1,212.1 1786.6,198.3 1787,208.9 1787.4,197.9 1787.9,214.4 1788.3,199.1 1788.8,214 1789.2,202.5 1789.7,216.4 1790.1,205 1790.6,216 1791,203.1 1791.5,216.4 1791.9,202.1 1792.4,211.6 1792.8,198.5 1793.3,212 1793.7,199 1794.1,210.9 1794.6,197 1795,211.6 1795.5,193.9 1795.9,203.4 1796.4,189.3 1796.8,202.4 1797.3,182.6 1797.7,195.1 1798.2,178.8 1798.6,191.1 1799.1,173.7 1799.5,186.1 1800,173.6 1800.4,190.8 1800.8,172.7 1801.3,187.2 1801.7,171.7 1802.2,187.2 1802.6,163.5 1803.1,176.2 1803.5,163.7 1804,177.1 1804.4,160.4 1804.9,180.3 1805.3,160.4 1805.8,181.6 1806.2,159.2 1806.7,184 1807.1,159.2 1807.5,184.3 1808,156.7 1808.4,178 1808.9,160.8 1809.3,182.3 1809.8,155.9 1810.2,181.7 1810.7,164.5 1811.1,185.5 1811.6,158.3 1812,181.9 1812.5,156.5 1812.9,175.8 1813.4,154.1 1813.8,178.3 1814.2,152.1 1814.7,173.7 1815.1,150.9 1815.6,175.8 1816,156.3 1816.5,176.9 1816.9,148.4 1817.4,169.5 1817.8,152.3 1818.3,177.8 1818.7,147 1819.2,173.7 1819.6,152 1820,178.2 1820.5,153.1 1820.9,173.3 1821.4,160.3 1821.8,176.9 1822.3,153.8 1822.7,180 1823.2,159.4 1823.6,171.4 1824.1,148.2 1824.5,175.2 1825,154 1825.4,173.9 1825.9,154.4 1826.3,176.1 1826.7,153.8 1827.2,176 1827.6,147.8 1828.1,172.4 1828.5,148.2 1829,172.3 1829.4,149.5 1829.9,176.6 1830.3,154.2 1830.8,178.2 1831.2,160.4 1831.7,176.1 1832.1,152.9 1832.6,177.3 1833,158.9 1833.4,175.5 1833.9,161.5 1834.3,182.5 1834.8,157.8 1835.2,176.6 1835.7,160 1836.1,183.9 1836.6,159 1837,185.8 1837.5,156.8 1837.9,185.5 1838.4,160.9 1838.8,176.1 1839.3,160.9 1839.7,182.7 1840.1,160.7 1840.6,178.1 1841,159.2 1841.5,188.2 1841.9,157.9 1842.4,182 1842.8,163.4 1843.3,191.2 1843.7,159.2 1844.2,183.3 1844.6,162.6 1845.1,191.5 1845.5,165.4 1846,190.5 1846.4,169.3 1846.8,198.8 1847.3,172.2 1847.7,196.3 1848.2,181.2 1848.6,198.1 1849.1,178.6 1849.5,197.8 1850,177 1850.4,197.3 1850.9,181.3 1851.3,198.7 1851.8,186.1 1852.2,199.7 1852.6,189.1 1853.1,205.1 1853.5,188.2 1854,205.8 1854.4,190.4 1854.9,209.1 1855.3,188.8 1855.8,205.6 1856.2,190 1856.7,209 1857.1,192.3 1857.6,203.7 1858,187.4 1858.5,205.7 1858.9,191.3 1859.3,201.1 1859.8,181.8 1860.2,199.4 1860.7,184.1 1861.1,201.7 1861.6,190.1 1862,207.3 1862.5,187 1862.9,202.3 1863.4,184.6 1863.8,197.2 1864.3,183.4 1864.7,196 1865.2,182 1865.6,197 1866,180.2 1866.5,192.2 1866.9,178.3 1867.4,189.8 1867.8,173 1868.3,185.2 1868.7,168.1 1869.2,186.7 1869.6,166.5 1870.1,182.8 1870.5,164.2 1871,178.2 1871.4,162.8 1871.9,174.9 1872.3,154.1 1872.7,166.8 1873.2,152 1873.6,165.8 1874.1,144.7 1874.5,161.9 1875,144 1875.4,158.7 1875.9,142.2 1876.3,161.6 1876.8,148 1877.2,162.8 1877.7,148.4 1878.1,160 1878.5,146.5 1879,156.7 1879.4,144.3 1879.9,157.5 1880.3,137.7 1880.8,151.7 1881.2,142.5 1881.7,157.9 1882.1,138.2 1882.6,150.4 1883,136.5 1883.5,156.7 1883.9,140.7 1884.4,159.2 1884.8,145.3 1885.2,162.2 1885.7,149.7 1886.1,165.3 1886.6,152.5 1887,166.5 1887.5,158.9 1887.9,176.6 1888.4,163.1 1888.8,176.4 1889.3,163.6 1889.7,179.5 1890.2,166.5 1890.6,180.3 1891.1,167.1 1891.5,181.8 1891.9,171.1 1892.4,188.2 1892.8,179.3 1893.3,188.7 1893.7,177.7 1894.2,196.3 1894.6,181.9 1895.1,199.7 1895.5,188.2 1896,203.3 1896.4,188.5 1896.9,204.8 1897.3,194.8 1897.8,207.3 1898.2,194.7 1898.6,206.9 1899.1,198.1 1899.5,208.8 1900,199.8 1900.4,212.8 1900.9,202.8 1901.3,220 1901.8,205.3 1902.2,214.4 1902.7,198.4 1903.1,220.6 1903.6,199.7 1904,218.5 1904.5,196.9 1904.9,220.5 1905.3,197.1 1905.8,211.9 1906.2,193 1906.7,207 1907.1,194.5 1907.6,208.3 1908,193.3 1908.5,206.4 1908.9,193 1909.4,205.7 1909.8,187.6 1910.3,200.1 1910.7,185.8 1911.1,199.9 1911.6,188.3 1912,197.4 1912.5,183.2 1912.9,198.2 1913.4,182.8 1913.8,189.8 1914.3,179.1 1914.7,186.8 1915.2,175.7 1915.6,187.9 1916.1,169.9 1916.5,183.5 1917,170.9 1917.4,180 1917.8,169.7 1918.3,182.4 1918.7,161.9 1919.2,179.9 1919.6,166.8 1920.1,179.8 1920.5,162.3 1921,174.1 1921.4,158.4 1921.9,174.4 1922.3,158.6 1922.8,173 1923.2,155.3 1923.7,168.1 1924.1,156.8 1924.5,166.9 1925,152.1 1925.4,168.6 1925.9,153.5 1926.3,168.9 1926.8,153.7 1927.2,171.3 1927.7,156.2 1928.1,168.1 1928.6,154.3 1929,168.2 1929.5,156.9 1929.9,171.1 1930.4,155.8 1930.8,173.9 1931.2,162.1 1931.7,177.2 1932.1,163.7 1932.6,178.9 1933,160.7 1933.5,179.6 1933.9,170.4 1934.4,181.3 1934.8,169.3 1935.3,183.1 1935.7,169.8 1936.2,183.1 1936.6,171.7 1937.1,187.6 1937.5,176.4 1937.9,190.3 1938.4,174.4 1938.8,193.9 1939.3,179.8 1939.7,194.1 1940.2,180.5 1940.6,194.9 1941.1,177.6 1941.5,196.4 1942,177.9 1942.4,190.8 1942.9,173.3 1943.3,192.7 1943.7,179.6 1944.2,193 1944.6,174.2 1945.1,197.1 1945.5,180.5 1946,200.3 1946.4,181.4 1946.9,197.2 1947.3,181.4 1947.8,197.5 1948.2,180 1948.7,199.6 1949.1,177.7 1949.6,190.5 1950,176.7 1950.4,193 1950.9,174.5 1951.3,187.4 1951.8,168.9 1952.2,189.7 1952.7,173.6 1953.1,186.1 1953.6,168.3 1954,185.6 1954.5,167.7 1954.9,187.6 1955.4,170.9 1955.8,186.2 1956.3,168.8 1956.7,185.1 1957.1,167.7 1957.6,187.8 1958,171.2 1958.5,188.4 1958.9,163.5 1959.4,181.4 1959.8,168.5 1960.3,178.1 1960.7,162.3 1961.2,179.7 1961.6,161.9 1962.1,185.4 1962.5,168 1963,183.7 1963.4,161.7 1963.8,184.6 1964.3,162.3 1964.7,183.4 1965.2,167.7 1965.6,185.6 1966.1,166.1 1966.5,186.3 1967,166 1967.4,185.9 1967.9,163.7 1968.3,184.5 1968.8,169.1 1969.2,187.7 1969.6,164.7 1970.1,191.1 1970.5,163.9 1971,182.1 1971.4,170.6 1971.9,187.4 1972.3,168.4 1972.8,185.4 1973.2,165.7 1973.7,181.4 1974.1,162.3 1974.6,190.6 1975,196.8 1975.5,176 1975.9,178.5 1976.3,153.9 1976.8,181.6 1977.2,180.6 1977.7,170.6 1978.1,171.8 1978.6,203 1979,186.4 1979.5,188.7 1979.9,166.9 1980.4,165.2 1980.8,167 1981.3,166.7 1981.7,174.1 1982.2,180.6 1982.6,157.5 1983,160.5 1983.5,148.7 1983.9,142.8 1984.4,139.2 1984.8,176.1 1985.3,194.9 1985.7,194 1986.2,191.1 1986.6,196.2 1987.1,188.9 1987.5,158.8 1988,201.9 1988.4,172.6 1988.9,189.7 1989.3,151.9 1989.7,162.6 1990.2,160.7 1990.6,159.3 1991.1,186.4 1991.5,187.2 1992,143.2 1992.4,144.6 1992.9,174.9 1993.3,176.6 1993.8,171.3 1994.2,172.8 1994.7,197.6 1995.1,201.1 1995.6,197 1996,183.9 1996.4,182.6 1996.9,186.2 1997.3,186.9 1997.8,174.9 1998.2,221.8 1998.7,217.1 1999.1,221.2 1999.6,208.5 2000,208.7 2000.5,221.3 2000.9,143.2 2001.4,133.4 2001.8,126.4 2002.2,127.2 2002.7,180.5 2003.1,189.5 2003.6,178 2004,179.2 2004.5,176.7 2004.9,166.8 2005.4,161.6 2005.8,179.9 2006.3,183.1 2006.7,145.6 2007.2,150 2007.6,153.1 2008.1,157.4 2008.5,155 2008.9,170.3 2009.4,196.6 2009.8,124 2010.3,128.5 2010.7,150.2 2011.2,223.8 2011.6,146.7 2012.1,144.8 2012.5,151.4 2013,160.2 2013.4,156.1 2013.9,172.4 2014.3,166.2 2014.8,222.7 2015.2,226.9 2015.6,229.8 2016.1,145.9 2016.5,142.7 2017,175.5 2017.4,135.4 2017.9,138.5 2018.3,155.7 2018.8,194.5 2019.2,207 2019.7,206.4 2020.1,190.9 2020.6,192.2 2021,196.4 2021.5,196.9 2021.9,201.2 2022.3,116.1 2022.8,122.2 2023.2,125.5 2023.7,125.7 2024.1,162.9 2024.6,163.2 2025,155.2 2025.5,208.6 2025.9,204.9 2026.4,121 2026.8,170.8 2027.3,161.3 2027.7,148.7 2028.2,154.4 2028.6,148.6 2029,136.5 2029.5,140.6 2029.9,195.5 2030.4,188.2 2030.8,139.5 2031.3,214.7 2031.7,156.6 2032.2,171.2 2032.6,167.7 2033.1,113.9 2033.5,109.2 2034,115.2 2034.4,138.8 2034.8,141.9 2035.3,133.5 2035.7,173.6 2036.2,120.7 2036.6,147.3 2037.1,132 2037.5,132.6 2038,147.4 2038.4,195.2 2038.9,194.3 2039.3,198.7 2039.8,197 2040.2,206.3 2040.7,208.3 2041.1,99 2041.5,113.2 2042,187.1 2042.4,156.7 2042.9,173.7 2043.3,166.4 2043.8,173.3 2044.2,204.9 2044.7,212.6 2045.1,160.6 2045.6,168.7 2046,196.9 2046.5,195.1 2046.9,187.9 2047.4,212 2047.8,217.4 2048.2,217.7 2048.7,181 2049.1,173.3 2049.6,137.2 2050,137.6 2050.5,216.2 2050.9,218.3"/>
<text x="1338.2" y="351" font-size="45.4" text-anchor="middle" fill="#262626">2500</text>
<text x="1561.5" y="351" font-size="45.4" text-anchor="middle" fill="#262626">3000</text>
<text x="1784.8" y="351" font-size="45.4" text-anchor="middle" fill="#262626">3500</text>
<text x="2008.1" y="351" font-size="45.4" text-anchor="middle" fill="#262626">4000</text>
<text x="1327.2" y="133.5" font-size="45" text-anchor="end" fill="#262626">2</text>
<text x="1327" y="195.1" font-size="45" text-anchor="end" fill="#262626">0</text>
<text x="1329.1" y="256.5" font-size="45" text-anchor="end" fill="#262626">-2</text>
<text x="1339.2" y="74.4" font-size="54" text-anchor="start" fill="#262626">×</text>
<text x="1376.4" y="68.1" font-size="45" text-anchor="start" fill="#262626">10</text>
<text x="1426.2" y="47.6" font-size="36" text-anchor="start" fill="#262626">-5</text>
</g>
<g id="axB">
<line x1="331.1" y1="685.9" x2="331.1" y2="1066.9" stroke="#dfdfdf" stroke-width="3.8"/>
<line x1="456.4" y1="685.9" x2="456.4" y2="1066.9" stroke="#dfdfdf" stroke-width="3.8"/>
<line x1="581.8" y1="685.9" x2="581.8" y2="1066.9" stroke="#dfdfdf" stroke-width="3.8"/>
<line x1="707.1" y1="685.9" x2="707.1" y2="1066.9" stroke="#dfdfdf" stroke-width="3.8"/>
<line x1="832.4" y1="685.9" x2="832.4" y2="1066.9" stroke="#dfdfdf" stroke-width="3.8"/>
<line x1="957.8" y1="685.9" x2="957.8" y2="1066.9" stroke="#dfdfdf" stroke-width="3.8"/>
<line x1="218.3" y1="876.4" x2="1007.9" y2="876.4" stroke="#dfdfdf" stroke-width="3.8"/>
<line x1="218.3" y1="684" x2="218.3" y2="1068.8" stroke="#262626" stroke-width="3.8"/>
<line x1="1007.9" y1="684" x2="1007.9" y2="1068.8" stroke="#262626" stroke-width="3.8"/>
<line x1="331.1" y1="685.9" x2="331.1" y2="695.6" stroke="#262626" stroke-width="3.8"/>
<line x1="456.4" y1="685.9" x2="456.4" y2="695.6" stroke="#262626" stroke-width="3.8"/>
<line x1="581.8" y1="685.9" x2="581.8" y2="695.6" stroke="#262626" stroke-width="3.8"/>
<line x1="707.1" y1="685.9" x2="707.1" y2="695.6" stroke="#262626" stroke-width="3.8"/>
<line x1="832.4" y1="685.9" x2="832.4" y2="695.6" stroke="#262626" stroke-width="3.8"/>
<line x1="957.8" y1="685.9" x2="957.8" y2="695.6" stroke="#262626" stroke-width="3.8"/>
<line x1="218.3" y1="1066.9" x2="228" y2="1066.9" stroke="#262626" stroke-width="3.8"/>
<line x1="1007.9" y1="1066.9" x2="998.2" y2="1066.9" stroke="#262626" stroke-width="3.8"/>
<line x1="218.3" y1="876.4" x2="228" y2="876.4" stroke="#262626" stroke-width="3.8"/>
<line x1="1007.9" y1="876.4" x2="998.2" y2="876.4" stroke="#262626" stroke-width="3.8"/>
<line x1="218.3" y1="685.9" x2="228" y2="685.9" stroke="#262626" stroke-width="3.8"/>
<line x1="1007.9" y1="685.9" x2="998.2" y2="685.9" stroke="#262626" stroke-width="3.8"/>
<path d="M218.3 1066.9V685.9M230.8 1066.9V771.6M243.4 1066.9V933.9M255.9 1066.9V969M268.4 1066.9V981.2M281 1066.9V989.6M293.5 1066.9V998.4M306 1066.9V1024.2M318.6 1066.9V1034.5M331.1 1066.9V1042M343.6 1066.9V1044.7M356.2 1066.9V1048.2M368.7 1066.9V1052.9M381.2 1066.9V1055.9M393.8 1066.9V1059.8M406.3 1066.9V1062.2M418.8 1066.9V1063.2M431.4 1066.9V1064.4M443.9 1066.9V1064.4M456.4 1066.9V1064.6M469 1066.9V1064.8M481.5 1066.9V1065.6M494 1066.9V1065.7M506.6 1066.9V1066M519.1 1066.9V1066.1M531.6 1066.9V1066.2M544.2 1066.9V1066.2M556.7 1066.9V1066.3M569.2 1066.9V1066.3M581.8 1066.9V1066.3M594.3 1066.9V1066.4M606.8 1066.9V1066.4M619.4 1066.9V1066.5M631.9 1066.9V1066.5M644.4 1066.9V1066.5M657 1066.9V1066.5M669.5 1066.9V1066.6M682 1066.9V1066.6M694.6 1066.9V1066.6M707.1 1066.9V1066.6M719.6 1066.9V1066.6M732.2 1066.9V1066.7M744.7 1066.9V1066.7M757.2 1066.9V1066.7M769.8 1066.9V1066.7M782.3 1066.9V1066.7M794.8 1066.9V1066.7M807.4 1066.9V1066.7M819.9 1066.9V1066.7M832.4 1066.9V1066.8M845 1066.9V1066.8M857.5 1066.9V1066.8M870 1066.9V1066.8M882.6 1066.9V1066.8M895.1 1066.9V1066.8M907.6 1066.9V1066.8M920.2 1066.9V1066.8M932.7 1066.9V1066.8M945.2 1066.9V1066.8M957.8 1066.9V1066.9M970.3 1066.9V1066.9M982.8 1066.9V1066.9M995.4 1066.9V1066.9M1007.9 1066.9V1066.9" stroke="#0072BD" stroke-width="6" fill="none"/>
<g fill="#0072BD">
<circle cx="218.3" cy="685.9" r="9.05"/>
<circle cx="230.8" cy="771.6" r="9.05"/>
<circle cx="243.4" cy="933.9" r="9.05"/>
<circle cx="255.9" cy="969" r="9.05"/>
<circle cx="268.4" cy="981.2" r="9.05"/>
<circle cx="281" cy="989.6" r="9.05"/>
<circle cx="293.5" cy="998.4" r="9.05"/>
<circle cx="306" cy="1024.2" r="9.05"/>
<circle cx="318.6" cy="1034.5" r="9.05"/>
<circle cx="331.1" cy="1042" r="9.05"/>
<circle cx="343.6" cy="1044.7" r="9.05"/>
<circle cx="356.2" cy="1048.2" r="9.05"/>
<circle cx="368.7" cy="1052.9" r="9.05"/>
<circle cx="381.2" cy="1055.9" r="9.05"/>
<circle cx="393.8" cy="1059.8" r="9.05"/>
<circle cx="406.3" cy="1062.2" r="9.05"/>
<circle cx="418.8" cy="1063.2" r="9.05"/>
<circle cx="431.4" cy="1064.4" r="9.05"/>
<circle cx="443.9" cy="1064.4" r="9.05"/>
<circle cx="456.4" cy="1064.6" r="9.05"/>
<circle cx="469" cy="1064.8" r="9.05"/>
<circle cx="481.5" cy="1065.6" r="9.05"/>
<circle cx="494" cy="1065.7" r="9.05"/>
<circle cx="506.6" cy="1066" r="9.05"/>
<circle cx="519.1" cy="1066.1" r="9.05"/>
<circle cx="531.6" cy="1066.2" r="9.05"/>
<circle cx="544.2" cy="1066.2" r="9.05"/>
<circle cx="556.7" cy="1066.3" r="9.05"/>
<circle cx="569.2" cy="1066.3" r="9.05"/>
<circle cx="581.8" cy="1066.3" r="9.05"/>
<circle cx="594.3" cy="1066.4" r="9.05"/>
<circle cx="606.8" cy="1066.4" r="9.05"/>
<circle cx="619.4" cy="1066.5" r="9.05"/>
<circle cx="631.9" cy="1066.5" r="9.05"/>
<circle cx="644.4" cy="1066.5" r="9.05"/>
<circle cx="657" cy="1066.5" r="9.05"/>
<circle cx="669.5" cy="1066.6" r="9.05"/>
<circle cx="682" cy="1066.6" r="9.05"/>
<circle cx="694.6" cy="1066.6" r="9.05"/>
<circle cx="707.1" cy="1066.6" r="9.05"/>
<circle cx="719.6" cy="1066.6" r="9.05"/>
<circle cx="732.2" cy="1066.7" r="9.05"/>
<circle cx="744.7" cy="1066.7" r="9.05"/>
<circle cx="757.2" cy="1066.7" r="9.05"/>
<circle cx="769.8" cy="1066.7" r="9.05"/>
<circle cx="782.3" cy="1066.7" r="9.05"/>
<circle cx="794.8" cy="1066.7" r="9.05"/>
<circle cx="807.4" cy="1066.7" r="9.05"/>
<circle cx="819.9" cy="1066.7" r="9.05"/>
<circle cx="832.4" cy="1066.8" r="9.05"/>
<circle cx="845" cy="1066.8" r="9.05"/>
<circle cx="857.5" cy="1066.8" r="9.05"/>
<circle cx="870" cy="1066.8" r="9.05"/>
<circle cx="882.6" cy="1066.8" r="9.05"/>
<circle cx="895.1" cy="1066.8" r="9.05"/>
<circle cx="907.6" cy="1066.8" r="9.05"/>
<circle cx="920.2" cy="1066.8" r="9.05"/>
<circle cx="932.7" cy="1066.8" r="9.05"/>
<circle cx="945.2" cy="1066.8" r="9.05"/>
<circle cx="957.8" cy="1066.9" r="9.05"/>
<circle cx="970.3" cy="1066.9" r="9.05"/>
<circle cx="982.8" cy="1066.9" r="9.05"/>
<circle cx="995.4" cy="1066.9" r="9.05"/>
<circle cx="1007.9" cy="1066.9" r="9.05"/>
</g>
<path d="M217 684h2.6v1.5h-2.6zM229.5 769.7h2.6v1.5h-2.6zM242.1 932h2.6v1.5h-2.6zM254.6 967.1h2.6v1.5h-2.6zM267.1 979.3h2.6v1.5h-2.6zM279.7 987.7h2.6v1.5h-2.6zM292.2 996.5h2.6v1.5h-2.6zM304.7 1022.3h2.6v1.5h-2.6zM317.3 1032.6h2.6v1.5h-2.6zM329.8 1040.1h2.6v1.5h-2.6zM342.3 1042.8h2.6v1.5h-2.6zM354.9 1046.3h2.6v1.5h-2.6zM367.4 1051h2.6v1.5h-2.6zM379.9 1054h2.6v1.5h-2.6zM392.5 1057.9h2.6v1.5h-2.6zM405 1060.3h2.6v1.5h-2.6zM417.5 1061.3h2.6v1.5h-2.6zM430.1 1062.5h2.6v1.5h-2.6zM442.6 1062.5h2.6v1.5h-2.6zM455.1 1062.7h2.6v1.5h-2.6zM467.7 1062.9h2.6v1.5h-2.6zM480.2 1063.7h2.6v1.5h-2.6zM492.7 1063.8h2.6v1.5h-2.6zM505.3 1064.1h2.6v1.5h-2.6zM517.8 1064.2h2.6v1.5h-2.6zM530.3 1064.3h2.6v1.5h-2.6zM542.9 1064.3h2.6v1.5h-2.6zM555.4 1064.4h2.6v1.5h-2.6zM567.9 1064.4h2.6v1.5h-2.6zM580.5 1064.4h2.6v1.5h-2.6zM593 1064.5h2.6v1.5h-2.6zM605.5 1064.5h2.6v1.5h-2.6zM618.1 1064.6h2.6v1.5h-2.6zM630.6 1064.6h2.6v1.5h-2.6zM643.1 1064.6h2.6v1.5h-2.6zM655.7 1064.6h2.6v1.5h-2.6zM668.2 1064.7h2.6v1.5h-2.6zM680.7 1064.7h2.6v1.5h-2.6zM693.3 1064.7h2.6v1.5h-2.6zM705.8 1064.7h2.6v1.5h-2.6zM718.3 1064.7h2.6v1.5h-2.6zM730.9 1064.8h2.6v1.5h-2.6zM743.4 1064.8h2.6v1.5h-2.6zM755.9 1064.8h2.6v1.5h-2.6zM768.5 1064.8h2.6v1.5h-2.6zM781 1064.8h2.6v1.5h-2.6zM793.5 1064.8h2.6v1.5h-2.6zM806.1 1064.8h2.6v1.5h-2.6zM818.6 1064.8h2.6v1.5h-2.6zM831.1 1064.9h2.6v1.5h-2.6zM843.7 1064.9h2.6v1.5h-2.6zM856.2 1064.9h2.6v1.5h-2.6zM868.7 1064.9h2.6v1.5h-2.6zM881.3 1064.9h2.6v1.5h-2.6zM893.8 1064.9h2.6v1.5h-2.6zM906.3 1064.9h2.6v1.5h-2.6zM918.9 1064.9h2.6v1.5h-2.6zM931.4 1064.9h2.6v1.5h-2.6zM943.9 1064.9h2.6v1.5h-2.6zM956.5 1065h2.6v1.5h-2.6zM969 1065h2.6v1.5h-2.6zM981.5 1065h2.6v1.5h-2.6zM994.1 1065h2.6v1.5h-2.6zM1006.6 1065h2.6v1.5h-2.6z" fill="#fff"/>
<line x1="216.4" y1="685.9" x2="1009.8" y2="685.9" stroke="#262626" stroke-width="3.8"/>
<line x1="331.1" y1="685.9" x2="331.1" y2="695.6" stroke="#262626" stroke-width="3.8"/>
<line x1="456.4" y1="685.9" x2="456.4" y2="695.6" stroke="#262626" stroke-width="3.8"/>
<line x1="581.8" y1="685.9" x2="581.8" y2="695.6" stroke="#262626" stroke-width="3.8"/>
<line x1="707.1" y1="685.9" x2="707.1" y2="695.6" stroke="#262626" stroke-width="3.8"/>
<line x1="832.4" y1="685.9" x2="832.4" y2="695.6" stroke="#262626" stroke-width="3.8"/>
<line x1="957.8" y1="685.9" x2="957.8" y2="695.6" stroke="#262626" stroke-width="3.8"/>
<line x1="216.4" y1="1067.2" x2="1009.8" y2="1067.2" stroke="#262626" stroke-width="3.0"/>
<line x1="331.1" y1="1066.9" x2="331.1" y2="1057.2" stroke="#262626" stroke-width="3.8"/>
<line x1="456.4" y1="1066.9" x2="456.4" y2="1057.2" stroke="#262626" stroke-width="3.8"/>
<line x1="581.8" y1="1066.9" x2="581.8" y2="1057.2" stroke="#262626" stroke-width="3.8"/>
<line x1="707.1" y1="1066.9" x2="707.1" y2="1057.2" stroke="#262626" stroke-width="3.8"/>
<line x1="832.4" y1="1066.9" x2="832.4" y2="1057.2" stroke="#262626" stroke-width="3.8"/>
<line x1="957.8" y1="1066.9" x2="957.8" y2="1057.2" stroke="#262626" stroke-width="3.8"/>
<text x="331.1" y="1123.5" font-size="44.5" text-anchor="middle" fill="#262626">10</text>
<text x="456.4" y="1123.5" font-size="44.5" text-anchor="middle" fill="#262626">20</text>
<text x="581.8" y="1123.5" font-size="44.5" text-anchor="middle" fill="#262626">30</text>
<text x="707.1" y="1123.5" font-size="44.5" text-anchor="middle" fill="#262626">40</text>
<text x="832.4" y="1123.5" font-size="44.5" text-anchor="middle" fill="#262626">50</text>
<text x="957.8" y="1123.5" font-size="44.5" text-anchor="middle" fill="#262626">60</text>
<text x="207" y="1084.8" font-size="44.5" text-anchor="end" fill="#262626">0</text>
<text x="207" y="894.3" font-size="44.5" text-anchor="end" fill="#262626">0.5</text>
<text x="207" y="703.8" font-size="44.5" text-anchor="end" fill="#262626">1</text>
<text x="613.1" y="1183.1" font-size="48.8" text-anchor="middle" fill="#262626">Index</text>
<text x="613.1" y="665" font-size="48.8" text-anchor="middle" fill="#000" font-weight="bold">(b)</text>
<text x="126.3" y="877.4" font-size="49.2" text-anchor="middle" fill="#262626" transform="rotate(-90 126.3 877.4)">Amplitude</text>
</g>
<g id="axC">
<line x1="1371.4" y1="685.9" x2="1371.4" y2="1066.9" stroke="#dfdfdf" stroke-width="3.8"/>
<line x1="1497.1" y1="685.9" x2="1497.1" y2="1066.9" stroke="#dfdfdf" stroke-width="3.8"/>
<line x1="1622.9" y1="685.9" x2="1622.9" y2="1066.9" stroke="#dfdfdf" stroke-width="3.8"/>
<line x1="1748.6" y1="685.9" x2="1748.6" y2="1066.9" stroke="#dfdfdf" stroke-width="3.8"/>
<line x1="1874.4" y1="685.9" x2="1874.4" y2="1066.9" stroke="#dfdfdf" stroke-width="3.8"/>
<line x1="2000.1" y1="685.9" x2="2000.1" y2="1066.9" stroke="#dfdfdf" stroke-width="3.8"/>
<line x1="1258.2" y1="876.4" x2="2050.4" y2="876.4" stroke="#dfdfdf" stroke-width="3.8"/>
<line x1="1258.2" y1="684" x2="1258.2" y2="1068.8" stroke="#262626" stroke-width="3.8"/>
<line x1="2050.4" y1="684" x2="2050.4" y2="1068.8" stroke="#262626" stroke-width="3.8"/>
<line x1="1256.3" y1="685.9" x2="2052.3" y2="685.9" stroke="#262626" stroke-width="3.8"/>
<line x1="1256.3" y1="1066.9" x2="2052.3" y2="1066.9" stroke="#262626" stroke-width="3.8"/>
<line x1="1371.4" y1="685.9" x2="1371.4" y2="695.6" stroke="#262626" stroke-width="3.8"/>
<line x1="1371.4" y1="1066.9" x2="1371.4" y2="1057.2" stroke="#262626" stroke-width="3.8"/>
<line x1="1497.1" y1="685.9" x2="1497.1" y2="695.6" stroke="#262626" stroke-width="3.8"/>
<line x1="1497.1" y1="1066.9" x2="1497.1" y2="1057.2" stroke="#262626" stroke-width="3.8"/>
<line x1="1622.9" y1="685.9" x2="1622.9" y2="695.6" stroke="#262626" stroke-width="3.8"/>
<line x1="1622.9" y1="1066.9" x2="1622.9" y2="1057.2" stroke="#262626" stroke-width="3.8"/>
<line x1="1748.6" y1="685.9" x2="1748.6" y2="695.6" stroke="#262626" stroke-width="3.8"/>
<line x1="1748.6" y1="1066.9" x2="1748.6" y2="1057.2" stroke="#262626" stroke-width="3.8"/>
<line x1="1874.4" y1="685.9" x2="1874.4" y2="695.6" stroke="#262626" stroke-width="3.8"/>
<line x1="1874.4" y1="1066.9" x2="1874.4" y2="1057.2" stroke="#262626" stroke-width="3.8"/>
<line x1="2000.1" y1="685.9" x2="2000.1" y2="695.6" stroke="#262626" stroke-width="3.8"/>
<line x1="2000.1" y1="1066.9" x2="2000.1" y2="1057.2" stroke="#262626" stroke-width="3.8"/>
<line x1="1258.2" y1="685.9" x2="1267.9" y2="685.9" stroke="#262626" stroke-width="3.8"/>
<line x1="2050.4" y1="685.9" x2="2040.7" y2="685.9" stroke="#262626" stroke-width="3.8"/>
<line x1="1258.2" y1="876.4" x2="1267.9" y2="876.4" stroke="#262626" stroke-width="3.8"/>
<line x1="2050.4" y1="876.4" x2="2040.7" y2="876.4" stroke="#262626" stroke-width="3.8"/>
<line x1="1258.2" y1="1066.9" x2="1267.9" y2="1066.9" stroke="#262626" stroke-width="3.8"/>
<line x1="2050.4" y1="1066.9" x2="2040.7" y2="1066.9" stroke="#262626" stroke-width="3.8"/>
<clipPath id="cc"><rect x="1254.2" y="681.9" width="800.2" height="386.5"/></clipPath>
<polyline clip-path="url(#cc)" fill="none" stroke="#0072BD" stroke-width="6" stroke-linejoin="round" stroke-linecap="round" points="1258.2,685.9 1270.8,694.3 1283.3,720.7 1295.9,730.9 1308.5,735.3 1321.1,738.7 1333.6,742.7 1346.2,758.3 1358.8,767.4 1371.4,776.2 1383.9,780 1396.5,785.7 1409.1,795.2 1421.7,803.2 1434.2,817.7 1446.8,831.4 1459.4,839.1 1472,851.6 1484.5,852.4 1497.1,855.1 1509.7,858.5 1522.3,874.1 1534.8,875.3 1547.4,887.4 1560,891.6 1572.6,893.5 1585.1,895.8 1597.7,897 1610.3,898.5 1622.9,900.4 1635.4,903.6 1648,906.1 1660.6,911.8 1673.2,913.4 1685.7,915.6 1698.3,917.2 1710.9,918.7 1723.5,921.4 1736,923.6 1748.6,925.5 1761.2,927.5 1773.8,928.6 1786.3,929.4 1798.9,931.3 1811.5,932.8 1824.1,935.1 1836.6,936.6 1849.2,940.2 1861.8,944.6 1874.4,946.9 1886.9,947.6 1899.5,953.4 1912.1,957.6 1924.7,958.3 1937.2,961.9 1949.8,962.7 1962.4,962.7 1975,973.6 1987.5,979.8 2000.1,990.7 2012.7,1000 2025.3,1016.4 2037.8,1046.7 2050.4,1118.7"/>
<text x="1371.4" y="1123.5" font-size="44.5" text-anchor="middle" fill="#262626">10</text>
<text x="1497.1" y="1123.5" font-size="44.5" text-anchor="middle" fill="#262626">20</text>
<text x="1622.9" y="1123.5" font-size="44.5" text-anchor="middle" fill="#262626">30</text>
<text x="1748.6" y="1123.5" font-size="44.5" text-anchor="middle" fill="#262626">40</text>
<text x="1874.4" y="1123.5" font-size="44.5" text-anchor="middle" fill="#262626">50</text>
<text x="2000.1" y="1123.5" font-size="44.5" text-anchor="middle" fill="#262626">60</text>
<text x="1246.9" y="703.8" font-size="44.5" text-anchor="end" fill="#262626">0</text>
<text x="1246.9" y="894.3" font-size="44.5" text-anchor="end" fill="#262626">-50</text>
<text x="1246.9" y="1084.8" font-size="44.5" text-anchor="end" fill="#262626">-100</text>
<text x="1654.3" y="1183.1" font-size="48.8" text-anchor="middle" fill="#262626">Index</text>
<text x="1654.3" y="665" font-size="48.8" text-anchor="middle" fill="#000" font-weight="bold">(c)</text>
<text x="1138.4" y="877.9" font-size="48.8" text-anchor="middle" fill="#262626" transform="rotate(-90 1138.4 877.9)">dB</text>
</g>
<g>
<line x1="271.1" y1="1215.9" x2="271.1" y2="1597.2" stroke="#dfdfdf" stroke-width="3.8"/>
<line x1="377.1" y1="1215.9" x2="377.1" y2="1597.2" stroke="#dfdfdf" stroke-width="3.8"/>
<line x1="483" y1="1215.9" x2="483" y2="1597.2" stroke="#dfdfdf" stroke-width="3.8"/>
<line x1="218.1" y1="1406.6" x2="589" y2="1406.6" stroke="#dfdfdf" stroke-width="3.8"/>
<line x1="218.1" y1="1214" x2="218.1" y2="1599.1" stroke="#262626" stroke-width="3.8"/>
<line x1="589" y1="1214" x2="589" y2="1599.1" stroke="#262626" stroke-width="3.8"/>
<line x1="271.1" y1="1215.9" x2="271.1" y2="1221.6" stroke="#262626" stroke-width="3.8"/>
<line x1="377.1" y1="1215.9" x2="377.1" y2="1221.6" stroke="#262626" stroke-width="3.8"/>
<line x1="483" y1="1215.9" x2="483" y2="1221.6" stroke="#262626" stroke-width="3.8"/>
<line x1="589" y1="1215.9" x2="589" y2="1221.6" stroke="#262626" stroke-width="3.8"/>
<line x1="218.1" y1="1597.2" x2="223.8" y2="1597.2" stroke="#262626" stroke-width="3.8"/>
<line x1="589" y1="1597.2" x2="583.3" y2="1597.2" stroke="#262626" stroke-width="3.8"/>
<line x1="218.1" y1="1406.6" x2="223.8" y2="1406.6" stroke="#262626" stroke-width="3.8"/>
<line x1="589" y1="1406.6" x2="583.3" y2="1406.6" stroke="#262626" stroke-width="3.8"/>
<line x1="218.1" y1="1215.9" x2="223.8" y2="1215.9" stroke="#262626" stroke-width="3.8"/>
<line x1="589" y1="1215.9" x2="583.3" y2="1215.9" stroke="#262626" stroke-width="3.8"/>
<path d="M218.1 1597.2V1215.9M271.1 1597.2V1588.2M324.1 1597.2V1595.3M377.1 1597.2V1596.4M430 1597.2V1596.8M483 1597.2V1596.8M536 1597.2V1596.9M589 1597.2V1597" stroke="#0072BD" stroke-width="6" fill="none"/>
<g fill="#0072BD">
<circle cx="218.1" cy="1215.9" r="9.05"/>
<circle cx="271.1" cy="1588.2" r="9.05"/>
<circle cx="324.1" cy="1595.3" r="9.05"/>
<circle cx="377.1" cy="1596.4" r="9.05"/>
<circle cx="430" cy="1596.8" r="9.05"/>
<circle cx="483" cy="1596.8" r="9.05"/>
<circle cx="536" cy="1596.9" r="9.05"/>
<circle cx="589" cy="1597" r="9.05"/>
</g>
<path d="M216.8 1214h2.6v1.5h-2.6zM269.8 1586.3h2.6v1.5h-2.6zM322.8 1593.4h2.6v1.5h-2.6zM375.8 1594.5h2.6v1.5h-2.6zM428.7 1594.9h2.6v1.5h-2.6zM481.7 1594.9h2.6v1.5h-2.6zM534.7 1595h2.6v1.5h-2.6zM587.7 1595.1h2.6v1.5h-2.6z" fill="#fff"/>
<line x1="216.2" y1="1215.9" x2="590.9" y2="1215.9" stroke="#262626" stroke-width="3.8"/>
<line x1="271.1" y1="1215.9" x2="271.1" y2="1221.6" stroke="#262626" stroke-width="3.8"/>
<line x1="377.1" y1="1215.9" x2="377.1" y2="1221.6" stroke="#262626" stroke-width="3.8"/>
<line x1="483" y1="1215.9" x2="483" y2="1221.6" stroke="#262626" stroke-width="3.8"/>
<line x1="589" y1="1215.9" x2="589" y2="1221.6" stroke="#262626" stroke-width="3.8"/>
<line x1="216.2" y1="1597.5" x2="590.9" y2="1597.5" stroke="#262626" stroke-width="3.0"/>
<line x1="271.1" y1="1597.2" x2="271.1" y2="1591.5" stroke="#262626" stroke-width="3.8"/>
<line x1="377.1" y1="1597.2" x2="377.1" y2="1591.5" stroke="#262626" stroke-width="3.8"/>
<line x1="483" y1="1597.2" x2="483" y2="1591.5" stroke="#262626" stroke-width="3.8"/>
<line x1="589" y1="1597.2" x2="589" y2="1591.5" stroke="#262626" stroke-width="3.8"/>
<text x="271.1" y="1653.8" font-size="44.5" text-anchor="middle" fill="#262626">2</text>
<text x="377.1" y="1653.8" font-size="44.5" text-anchor="middle" fill="#262626">4</text>
<text x="483" y="1653.8" font-size="44.5" text-anchor="middle" fill="#262626">6</text>
<text x="589" y="1653.8" font-size="44.5" text-anchor="middle" fill="#262626">8</text>
<text x="206.8" y="1615.1" font-size="44.5" text-anchor="end" fill="#262626">0</text>
<text x="206.8" y="1424.5" font-size="44.5" text-anchor="end" fill="#262626">0.5</text>
<text x="206.8" y="1233.8" font-size="44.5" text-anchor="end" fill="#262626">1</text>
<text x="403.6" y="1713.4" font-size="48.8" text-anchor="middle" fill="#262626">Index</text>
<text x="403.6" y="1195" font-size="48.8" text-anchor="middle" fill="#000" font-weight="bold">(d)</text>
<text x="126.3" y="1407.6" font-size="49.2" text-anchor="middle" fill="#262626" transform="rotate(-90 126.3 1407.6)">Amplitude</text>
</g>
<g>
<line x1="757.1" y1="1215.9" x2="757.1" y2="1597.2" stroke="#dfdfdf" stroke-width="3.8"/>
<line x1="863.1" y1="1215.9" x2="863.1" y2="1597.2" stroke="#dfdfdf" stroke-width="3.8"/>
<line x1="969" y1="1215.9" x2="969" y2="1597.2" stroke="#dfdfdf" stroke-width="3.8"/>
<line x1="704.1" y1="1406.6" x2="1075" y2="1406.6" stroke="#dfdfdf" stroke-width="3.8"/>
<line x1="704.1" y1="1214" x2="704.1" y2="1599.1" stroke="#262626" stroke-width="3.8"/>
<line x1="1075" y1="1214" x2="1075" y2="1599.1" stroke="#262626" stroke-width="3.8"/>
<line x1="757.1" y1="1215.9" x2="757.1" y2="1221.6" stroke="#262626" stroke-width="3.8"/>
<line x1="863.1" y1="1215.9" x2="863.1" y2="1221.6" stroke="#262626" stroke-width="3.8"/>
<line x1="969" y1="1215.9" x2="969" y2="1221.6" stroke="#262626" stroke-width="3.8"/>
<line x1="1075" y1="1215.9" x2="1075" y2="1221.6" stroke="#262626" stroke-width="3.8"/>
<line x1="704.1" y1="1597.2" x2="709.8" y2="1597.2" stroke="#262626" stroke-width="3.8"/>
<line x1="1075" y1="1597.2" x2="1069.3" y2="1597.2" stroke="#262626" stroke-width="3.8"/>
<line x1="704.1" y1="1406.6" x2="709.8" y2="1406.6" stroke="#262626" stroke-width="3.8"/>
<line x1="1075" y1="1406.6" x2="1069.3" y2="1406.6" stroke="#262626" stroke-width="3.8"/>
<line x1="704.1" y1="1215.9" x2="709.8" y2="1215.9" stroke="#262626" stroke-width="3.8"/>
<line x1="1075" y1="1215.9" x2="1069.3" y2="1215.9" stroke="#262626" stroke-width="3.8"/>
<path d="M704.1 1597.2V1215.9M757.1 1597.2V1514.5M810.1 1597.2V1563.8M863.1 1597.2V1573.8M916 1597.2V1578.7M969 1597.2V1586.7M1022 1597.2V1591.7M1075 1597.2V1595.7" stroke="#0072BD" stroke-width="6" fill="none"/>
<g fill="#0072BD">
<circle cx="704.1" cy="1215.9" r="9.05"/>
<circle cx="757.1" cy="1514.5" r="9.05"/>
<circle cx="810.1" cy="1563.8" r="9.05"/>
<circle cx="863.1" cy="1573.8" r="9.05"/>
<circle cx="916" cy="1578.7" r="9.05"/>
<circle cx="969" cy="1586.7" r="9.05"/>
<circle cx="1022" cy="1591.7" r="9.05"/>
<circle cx="1075" cy="1595.7" r="9.05"/>
</g>
<path d="M702.8 1214h2.6v1.5h-2.6zM755.8 1512.6h2.6v1.5h-2.6zM808.8 1561.9h2.6v1.5h-2.6zM861.8 1571.9h2.6v1.5h-2.6zM914.7 1576.8h2.6v1.5h-2.6zM967.7 1584.8h2.6v1.5h-2.6zM1020.7 1589.8h2.6v1.5h-2.6zM1073.7 1593.8h2.6v1.5h-2.6z" fill="#fff"/>
<line x1="702.2" y1="1215.9" x2="1076.9" y2="1215.9" stroke="#262626" stroke-width="3.8"/>
<line x1="757.1" y1="1215.9" x2="757.1" y2="1221.6" stroke="#262626" stroke-width="3.8"/>
<line x1="863.1" y1="1215.9" x2="863.1" y2="1221.6" stroke="#262626" stroke-width="3.8"/>
<line x1="969" y1="1215.9" x2="969" y2="1221.6" stroke="#262626" stroke-width="3.8"/>
<line x1="1075" y1="1215.9" x2="1075" y2="1221.6" stroke="#262626" stroke-width="3.8"/>
<line x1="702.2" y1="1597.5" x2="1076.9" y2="1597.5" stroke="#262626" stroke-width="3.0"/>
<line x1="757.1" y1="1597.2" x2="757.1" y2="1591.5" stroke="#262626" stroke-width="3.8"/>
<line x1="863.1" y1="1597.2" x2="863.1" y2="1591.5" stroke="#262626" stroke-width="3.8"/>
<line x1="969" y1="1597.2" x2="969" y2="1591.5" stroke="#262626" stroke-width="3.8"/>
<line x1="1075" y1="1597.2" x2="1075" y2="1591.5" stroke="#262626" stroke-width="3.8"/>
<text x="757.1" y="1653.8" font-size="44.5" text-anchor="middle" fill="#262626">2</text>
<text x="863.1" y="1653.8" font-size="44.5" text-anchor="middle" fill="#262626">4</text>
<text x="969" y="1653.8" font-size="44.5" text-anchor="middle" fill="#262626">6</text>
<text x="1075" y="1653.8" font-size="44.5" text-anchor="middle" fill="#262626">8</text>
<text x="692.8" y="1615.1" font-size="44.5" text-anchor="end" fill="#262626">0</text>
<text x="692.8" y="1424.5" font-size="44.5" text-anchor="end" fill="#262626">0.5</text>
<text x="692.8" y="1233.8" font-size="44.5" text-anchor="end" fill="#262626">1</text>
<text x="889.5" y="1713.4" font-size="48.8" text-anchor="middle" fill="#262626">Index</text>
<text x="889.5" y="1195" font-size="48.8" text-anchor="middle" fill="#000" font-weight="bold">(e)</text>
</g>
<g>
<line x1="1245.8" y1="1215.9" x2="1245.8" y2="1597.2" stroke="#dfdfdf" stroke-width="3.8"/>
<line x1="1351.1" y1="1215.9" x2="1351.1" y2="1597.2" stroke="#dfdfdf" stroke-width="3.8"/>
<line x1="1456.3" y1="1215.9" x2="1456.3" y2="1597.2" stroke="#dfdfdf" stroke-width="3.8"/>
<line x1="1193.2" y1="1406.6" x2="1561.6" y2="1406.6" stroke="#dfdfdf" stroke-width="3.8"/>
<line x1="1193.2" y1="1214" x2="1193.2" y2="1599.1" stroke="#262626" stroke-width="3.8"/>
<line x1="1561.6" y1="1214" x2="1561.6" y2="1599.1" stroke="#262626" stroke-width="3.8"/>
<line x1="1245.8" y1="1215.9" x2="1245.8" y2="1221.6" stroke="#262626" stroke-width="3.8"/>
<line x1="1351.1" y1="1215.9" x2="1351.1" y2="1221.6" stroke="#262626" stroke-width="3.8"/>
<line x1="1456.3" y1="1215.9" x2="1456.3" y2="1221.6" stroke="#262626" stroke-width="3.8"/>
<line x1="1561.6" y1="1215.9" x2="1561.6" y2="1221.6" stroke="#262626" stroke-width="3.8"/>
<line x1="1193.2" y1="1597.2" x2="1198.9" y2="1597.2" stroke="#262626" stroke-width="3.8"/>
<line x1="1561.6" y1="1597.2" x2="1555.9" y2="1597.2" stroke="#262626" stroke-width="3.8"/>
<line x1="1193.2" y1="1406.6" x2="1198.9" y2="1406.6" stroke="#262626" stroke-width="3.8"/>
<line x1="1561.6" y1="1406.6" x2="1555.9" y2="1406.6" stroke="#262626" stroke-width="3.8"/>
<line x1="1193.2" y1="1215.9" x2="1198.9" y2="1215.9" stroke="#262626" stroke-width="3.8"/>
<line x1="1561.6" y1="1215.9" x2="1555.9" y2="1215.9" stroke="#262626" stroke-width="3.8"/>
<path d="M1193.2 1597.2V1215.9M1245.8 1597.2V1318.9M1298.5 1597.2V1385.2M1351.1 1597.2V1401.6M1403.7 1597.2V1524.8M1456.3 1597.2V1551.8M1509 1597.2V1572.3M1561.6 1597.2V1591.7" stroke="#0072BD" stroke-width="6" fill="none"/>
<g fill="#0072BD">
<circle cx="1193.2" cy="1215.9" r="9.05"/>
<circle cx="1245.8" cy="1318.9" r="9.05"/>
<circle cx="1298.5" cy="1385.2" r="9.05"/>
<circle cx="1351.1" cy="1401.6" r="9.05"/>
<circle cx="1403.7" cy="1524.8" r="9.05"/>
<circle cx="1456.3" cy="1551.8" r="9.05"/>
<circle cx="1509" cy="1572.3" r="9.05"/>
<circle cx="1561.6" cy="1591.7" r="9.05"/>
</g>
<path d="M1191.9 1214h2.6v1.5h-2.6zM1244.5 1317h2.6v1.5h-2.6zM1297.2 1383.3h2.6v1.5h-2.6zM1349.8 1399.7h2.6v1.5h-2.6zM1402.4 1522.9h2.6v1.5h-2.6zM1455 1549.9h2.6v1.5h-2.6zM1507.7 1570.4h2.6v1.5h-2.6zM1560.3 1589.8h2.6v1.5h-2.6z" fill="#fff"/>
<line x1="1191.3" y1="1215.9" x2="1563.5" y2="1215.9" stroke="#262626" stroke-width="3.8"/>
<line x1="1245.8" y1="1215.9" x2="1245.8" y2="1221.6" stroke="#262626" stroke-width="3.8"/>
<line x1="1351.1" y1="1215.9" x2="1351.1" y2="1221.6" stroke="#262626" stroke-width="3.8"/>
<line x1="1456.3" y1="1215.9" x2="1456.3" y2="1221.6" stroke="#262626" stroke-width="3.8"/>
<line x1="1561.6" y1="1215.9" x2="1561.6" y2="1221.6" stroke="#262626" stroke-width="3.8"/>
<line x1="1191.3" y1="1597.5" x2="1563.5" y2="1597.5" stroke="#262626" stroke-width="3.0"/>
<line x1="1245.8" y1="1597.2" x2="1245.8" y2="1591.5" stroke="#262626" stroke-width="3.8"/>
<line x1="1351.1" y1="1597.2" x2="1351.1" y2="1591.5" stroke="#262626" stroke-width="3.8"/>
<line x1="1456.3" y1="1597.2" x2="1456.3" y2="1591.5" stroke="#262626" stroke-width="3.8"/>
<line x1="1561.6" y1="1597.2" x2="1561.6" y2="1591.5" stroke="#262626" stroke-width="3.8"/>
<text x="1245.8" y="1653.8" font-size="44.5" text-anchor="middle" fill="#262626">2</text>
<text x="1351.1" y="1653.8" font-size="44.5" text-anchor="middle" fill="#262626">4</text>
<text x="1456.3" y="1653.8" font-size="44.5" text-anchor="middle" fill="#262626">6</text>
<text x="1561.6" y="1653.8" font-size="44.5" text-anchor="middle" fill="#262626">8</text>
<text x="1181.9" y="1615.1" font-size="44.5" text-anchor="end" fill="#262626">0</text>
<text x="1181.9" y="1424.5" font-size="44.5" text-anchor="end" fill="#262626">0.5</text>
<text x="1181.9" y="1233.8" font-size="44.5" text-anchor="end" fill="#262626">1</text>
<text x="1377.4" y="1713.4" font-size="48.8" text-anchor="middle" fill="#262626">Index</text>
<text x="1377.4" y="1195" font-size="48.8" text-anchor="middle" fill="#000" font-weight="bold">(f)</text>
</g>
<g>
<line x1="1732.4" y1="1215.9" x2="1732.4" y2="1597.2" stroke="#dfdfdf" stroke-width="3.8"/>
<line x1="1838.4" y1="1215.9" x2="1838.4" y2="1597.2" stroke="#dfdfdf" stroke-width="3.8"/>
<line x1="1944.4" y1="1215.9" x2="1944.4" y2="1597.2" stroke="#dfdfdf" stroke-width="3.8"/>
<line x1="1679.3" y1="1406.6" x2="2050.4" y2="1406.6" stroke="#dfdfdf" stroke-width="3.8"/>
<line x1="1679.3" y1="1214" x2="1679.3" y2="1599.1" stroke="#262626" stroke-width="3.8"/>
<line x1="2050.4" y1="1214" x2="2050.4" y2="1599.1" stroke="#262626" stroke-width="3.8"/>
<line x1="1732.4" y1="1215.9" x2="1732.4" y2="1221.6" stroke="#262626" stroke-width="3.8"/>
<line x1="1838.4" y1="1215.9" x2="1838.4" y2="1221.6" stroke="#262626" stroke-width="3.8"/>
<line x1="1944.4" y1="1215.9" x2="1944.4" y2="1221.6" stroke="#262626" stroke-width="3.8"/>
<line x1="2050.4" y1="1215.9" x2="2050.4" y2="1221.6" stroke="#262626" stroke-width="3.8"/>
<line x1="1679.3" y1="1597.2" x2="1685" y2="1597.2" stroke="#262626" stroke-width="3.8"/>
<line x1="2050.4" y1="1597.2" x2="2044.7" y2="1597.2" stroke="#262626" stroke-width="3.8"/>
<line x1="1679.3" y1="1406.6" x2="1685" y2="1406.6" stroke="#262626" stroke-width="3.8"/>
<line x1="2050.4" y1="1406.6" x2="2044.7" y2="1406.6" stroke="#262626" stroke-width="3.8"/>
<line x1="1679.3" y1="1215.9" x2="1685" y2="1215.9" stroke="#262626" stroke-width="3.8"/>
<line x1="2050.4" y1="1215.9" x2="2044.7" y2="1215.9" stroke="#262626" stroke-width="3.8"/>
<path d="M1679.3 1597.2V1215.9M1732.4 1597.2V1352.8M1785.4 1597.2V1417M1838.4 1597.2V1458.9M1891.4 1597.2V1574.2M1944.4 1597.2V1579.2M1997.4 1597.2V1590.7M2050.4 1597.2V1594.2" stroke="#0072BD" stroke-width="6" fill="none"/>
<g fill="#0072BD">
<circle cx="1679.3" cy="1215.9" r="9.05"/>
<circle cx="1732.4" cy="1352.8" r="9.05"/>
<circle cx="1785.4" cy="1417" r="9.05"/>
<circle cx="1838.4" cy="1458.9" r="9.05"/>
<circle cx="1891.4" cy="1574.2" r="9.05"/>
<circle cx="1944.4" cy="1579.2" r="9.05"/>
<circle cx="1997.4" cy="1590.7" r="9.05"/>
<circle cx="2050.4" cy="1594.2" r="9.05"/>
</g>
<path d="M1678 1214h2.6v1.5h-2.6zM1731.1 1350.9h2.6v1.5h-2.6zM1784.1 1415.1h2.6v1.5h-2.6zM1837.1 1457h2.6v1.5h-2.6zM1890.1 1572.3h2.6v1.5h-2.6zM1943.1 1577.3h2.6v1.5h-2.6zM1996.1 1588.8h2.6v1.5h-2.6zM2049.1 1592.3h2.6v1.5h-2.6z" fill="#fff"/>
<line x1="1677.4" y1="1215.9" x2="2052.3" y2="1215.9" stroke="#262626" stroke-width="3.8"/>
<line x1="1732.4" y1="1215.9" x2="1732.4" y2="1221.6" stroke="#262626" stroke-width="3.8"/>
<line x1="1838.4" y1="1215.9" x2="1838.4" y2="1221.6" stroke="#262626" stroke-width="3.8"/>
<line x1="1944.4" y1="1215.9" x2="1944.4" y2="1221.6" stroke="#262626" stroke-width="3.8"/>
<line x1="2050.4" y1="1215.9" x2="2050.4" y2="1221.6" stroke="#262626" stroke-width="3.8"/>
<line x1="1677.4" y1="1597.5" x2="2052.3" y2="1597.5" stroke="#262626" stroke-width="3.0"/>
<line x1="1732.4" y1="1597.2" x2="1732.4" y2="1591.5" stroke="#262626" stroke-width="3.8"/>
<line x1="1838.4" y1="1597.2" x2="1838.4" y2="1591.5" stroke="#262626" stroke-width="3.8"/>
<line x1="1944.4" y1="1597.2" x2="1944.4" y2="1591.5" stroke="#262626" stroke-width="3.8"/>
<line x1="2050.4" y1="1597.2" x2="2050.4" y2="1591.5" stroke="#262626" stroke-width="3.8"/>
<text x="1732.4" y="1653.8" font-size="44.5" text-anchor="middle" fill="#262626">2</text>
<text x="1838.4" y="1653.8" font-size="44.5" text-anchor="middle" fill="#262626">4</text>
<text x="1944.4" y="1653.8" font-size="44.5" text-anchor="middle" fill="#262626">6</text>
<text x="2050.4" y="1653.8" font-size="44.5" text-anchor="middle" fill="#262626">8</text>
<text x="1668" y="1615.1" font-size="44.5" text-anchor="end" fill="#262626">0</text>
<text x="1668" y="1424.5" font-size="44.5" text-anchor="end" fill="#262626">0.5</text>
<text x="1668" y="1233.8" font-size="44.5" text-anchor="end" fill="#262626">1</text>
<text x="1864.9" y="1713.4" font-size="48.8" text-anchor="middle" fill="#262626">Index</text>
<text x="1864.9" y="1195" font-size="48.8" text-anchor="middle" fill="#000" font-weight="bold">(g)</text>
</g>
</svg></body></html>
